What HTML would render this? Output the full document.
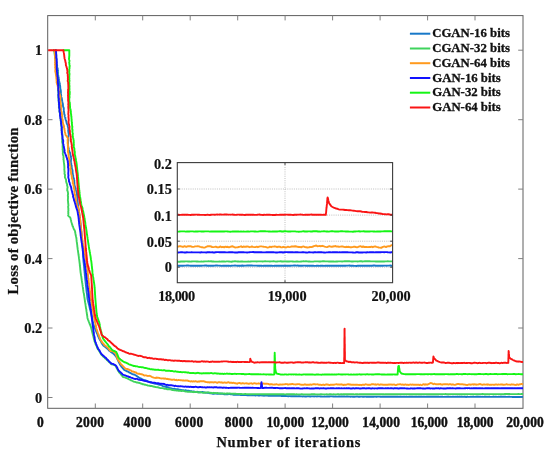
<!DOCTYPE html>
<html><head><meta charset="utf-8"><title>Loss of objective function</title>
<style>html,body{margin:0;padding:0;background:#fff}body{width:550px;height:457px;overflow:hidden}</style>
</head><body>
<svg width="550" height="457" viewBox="0 0 550 457" style="display:block">
<rect width="550" height="457" fill="#fff"/>
<rect x="47.7" y="15.6" width="475.3" height="392.7" fill="none" stroke="#5e5e5e" stroke-width="1"/>
<path d="M95.3,408.3 v-4.8 M95.3,15.6 v4.8 M142.7,408.3 v-4.8 M142.7,15.6 v4.8 M190.2,408.3 v-4.8 M190.2,15.6 v4.8 M237.7,408.3 v-4.8 M237.7,15.6 v4.8 M285.1,408.3 v-4.8 M285.1,15.6 v4.8 M332.6,408.3 v-4.8 M332.6,15.6 v4.8 M380.1,408.3 v-4.8 M380.1,15.6 v4.8 M427.6,408.3 v-4.8 M427.6,15.6 v4.8 M475.0,408.3 v-4.8 M475.0,15.6 v4.8 M47.7,397.5 h4.8 M523.0,397.5 h-4.8 M47.7,328.0 h4.8 M523.0,328.0 h-4.8 M47.7,258.6 h4.8 M523.0,258.6 h-4.8 M47.7,189.1 h4.8 M523.0,189.1 h-4.8 M47.7,119.7 h4.8 M523.0,119.7 h-4.8 M47.7,50.2 h4.8 M523.0,50.2 h-4.8" stroke="#808080" stroke-width="1" fill="none"/>
<g fill="none" stroke-width="1.9" stroke-linejoin="round" stroke-linecap="butt">
<path d="M55.0,50.2 L55.8,50.2 L55.9,50.9 L55.9,51.7 L56.0,52.4 L56.0,53.2 L56.1,53.9 L56.2,54.6 L56.2,55.4 L56.2,56.1 L56.2,56.8 L56.4,57.6 L56.3,58.3 L56.5,59.0 L56.5,59.8 L56.4,60.5 L56.6,61.3 L56.5,62.0 L56.7,62.7 L56.7,63.4 L56.7,64.2 L56.9,64.9 L57.2,65.6 L57.1,66.3 L57.1,67.1 L57.4,67.8 L57.7,68.5 L57.7,69.2 L57.7,69.9 L58.0,70.7 L57.7,71.4 L58.0,72.1 L57.9,72.8 L57.9,73.6 L57.9,74.3 L58.0,75.0 L58.3,75.7 L58.3,76.4 L58.5,77.1 L58.7,77.8 L58.8,78.5 L59.0,79.2 L58.9,79.8 L58.9,80.5 L59.0,81.2 L59.4,81.9 L59.5,82.6 L59.6,83.3 L59.8,84.0 L59.8,84.7 L59.9,85.5 L60.1,86.2 L60.3,86.9 L60.2,87.6 L60.3,88.3 L60.4,89.1 L60.7,89.8 L60.8,90.5 L60.7,91.2 L61.0,92.0 L60.8,92.7 L60.9,93.4 L61.1,94.1 L61.0,94.8 L61.2,95.6 L61.1,96.3 L61.3,97.0 L61.6,97.7 L61.7,98.4 L62.0,99.1 L61.9,99.8 L62.1,100.5 L62.2,101.2 L62.4,101.9 L62.4,102.5 L62.7,103.2 L62.9,103.9 L62.9,104.6 L63.0,105.3 L62.9,106.0 L63.2,106.7 L63.4,107.4 L63.7,108.1 L63.8,108.8 L63.7,109.5 L63.8,110.2 L64.0,110.9 L63.9,111.5 L64.1,112.2 L64.2,112.9 L64.2,113.6 L64.3,114.3 L64.7,115.0 L64.7,115.7 L64.8,116.4 L65.0,117.1 L65.4,117.8 L65.3,118.4 L65.5,119.1 L65.7,119.8 L66.0,120.5 L66.2,121.2 L66.5,121.9 L66.5,122.5 L66.7,123.2 L66.9,123.8 L67.3,124.5 L67.7,125.2 L67.7,125.8 L67.8,126.5 L68.0,127.1 L68.2,127.8 L68.3,128.5 L68.4,129.3 L68.3,130.0 L68.2,130.7 L68.3,131.5 L68.4,132.2 L68.5,132.9 L68.7,133.7 L68.8,134.4 L68.6,135.2 L68.5,136.0 L68.4,136.7 L68.0,137.5 L68.1,138.3 L68.2,139.0 L68.3,139.8 L68.3,140.5 L68.2,141.3 L68.1,142.0 L68.0,142.8 L68.1,143.5 L68.0,144.3 L67.9,145.0 L68.1,145.7 L68.2,146.4 L68.4,147.1 L68.5,147.9 L68.6,148.6 L68.8,149.3 L68.9,150.0 L69.2,150.7 L69.3,151.5 L69.8,152.2 L70.1,152.9 L70.1,153.7 L70.3,154.4 L70.5,155.1 L70.7,155.9 L70.8,156.6 L71.0,157.3 L71.3,158.0 L71.2,158.8 L71.1,159.5 L71.0,160.2 L70.9,160.9 L70.9,161.7 L71.0,162.4 L71.2,163.1 L71.2,163.8 L71.1,164.6 L71.6,165.3 L71.7,166.0 L71.6,166.7 L71.8,167.5 L71.7,168.2 L72.0,168.9 L72.3,169.6 L72.5,170.4 L72.6,171.1 L72.5,171.8 L72.6,172.6 L72.6,173.3 L72.9,174.0 L73.0,174.7 L73.2,175.5 L73.2,176.2 L73.2,176.9 L73.5,177.6 L73.8,178.3 L74.0,179.0 L74.1,179.7 L74.3,180.4 L74.4,181.1 L74.2,181.8 L74.4,182.5 L74.4,183.2 L74.4,183.9 L74.4,184.6 L74.6,185.3 L74.7,186.0 L75.1,186.8 L75.3,187.7 L75.5,188.2 L75.7,189.1 L75.9,189.9 L76.1,190.6 L76.3,191.1 L76.5,191.6 L76.7,192.2 L76.9,192.8 L77.0,193.5 L77.0,194.3 L77.1,195.3 L77.2,196.1 L77.2,196.7 L77.3,197.4 L77.4,198.2 L77.4,198.6 L77.5,199.4 L77.5,200.3 L77.6,201.1 L77.7,201.8 L77.7,202.4 L77.8,202.9 L77.9,203.8 L77.9,204.4 L78.0,205.2 L78.1,206.1 L78.2,206.7 L78.3,207.3 L78.4,208.2 L78.6,208.9 L78.7,209.4 L78.8,210.0 L78.9,210.6 L79.0,211.6 L79.1,212.5 L79.2,213.0 L79.3,213.9 L79.4,214.8 L79.6,215.4 L79.7,216.0 L79.8,216.7 L79.9,217.3 L80.0,217.8 L80.1,218.9 L80.1,219.6 L80.2,220.3 L80.3,221.2 L80.4,221.8 L80.4,222.7 L80.5,223.5 L80.6,224.0 L80.7,224.6 L80.7,225.2 L80.8,225.9 L80.9,226.8 L80.9,227.4 L81.0,228.2 L81.1,228.8 L81.2,229.8 L81.2,230.4 L81.3,231.2 L81.4,231.9 L81.4,232.8 L81.5,233.5 L81.6,234.3 L81.6,235.0 L81.7,235.7 L81.7,236.4 L81.8,236.8 L81.9,237.6 L81.9,238.2 L82.0,238.8 L82.1,239.8 L82.1,240.4 L82.2,241.2 L82.2,242.1 L82.3,242.9 L82.4,243.5 L82.4,244.2 L82.5,245.0 L82.5,245.8 L82.6,246.3 L82.6,247.1 L82.7,247.7 L82.7,248.4 L82.8,249.3 L82.8,250.0 L82.8,250.7 L82.9,251.6 L82.9,252.4 L83.0,253.0 L83.0,253.7 L83.1,254.4 L83.1,255.1 L83.1,255.8 L83.2,256.5 L83.2,257.2 L83.3,257.9 L83.3,258.8 L83.4,259.5 L83.4,260.3 L83.5,261.1 L83.5,261.6 L83.6,262.3 L83.7,263.2 L83.8,263.9 L83.8,264.4 L83.9,264.9 L84.0,265.7 L84.1,266.3 L84.1,267.0 L84.2,267.6 L84.3,268.6 L84.3,269.5 L84.4,270.4 L84.5,270.9 L84.6,271.7 L84.6,272.5 L84.7,273.0 L84.8,273.9 L84.8,274.8 L84.9,275.3 L85.0,276.2 L85.1,276.8 L85.1,277.5 L85.2,278.4 L85.3,279.2 L85.3,279.7 L85.4,280.4 L85.5,281.1 L85.6,281.8 L85.6,282.4 L85.7,283.1 L85.8,284.0 L85.9,284.5 L85.9,285.4 L86.0,286.1 L86.1,286.7 L86.2,287.4 L86.3,288.3 L86.4,289.1 L86.4,289.6 L86.5,290.7 L86.6,291.5 L86.7,292.4 L86.8,292.8 L86.9,293.4 L87.0,294.0 L87.1,295.0 L87.2,295.6 L87.2,296.2 L87.3,297.0 L87.4,298.0 L87.5,298.9 L87.6,299.4 L87.8,300.0 L88.0,301.0 L88.2,301.7 L88.4,302.5 L88.5,303.0 L88.7,303.5 L88.9,304.5 L89.1,305.2 L89.3,305.8 L89.5,306.7 L89.6,307.5 L89.8,308.3 L90.0,308.7 L90.1,309.6 L90.3,310.0 L90.5,310.9 L90.7,311.6 L90.8,312.2 L91.0,312.9 L91.2,313.8 L91.3,314.3 L91.5,314.8 L91.6,315.6 L91.8,316.3 L91.9,316.9 L92.1,317.5 L92.2,318.2 L92.4,318.9 L92.5,319.7 L92.6,320.4 L92.8,321.4 L92.9,322.0 L93.1,322.8 L93.2,323.4 L93.4,324.1 L93.5,324.7 L93.8,325.4 L94.1,325.9 L94.3,326.9 L94.6,327.6 L94.9,328.2 L95.2,328.9 L95.4,329.8 L95.7,330.2 L96.0,331.1 L96.3,331.7 L96.6,332.4 L96.9,333.3 L97.2,333.8 L97.5,334.5 L97.8,335.3 L98.1,336.2 L98.4,336.7 L98.7,337.5 L99.0,338.2 L99.3,338.8 L99.7,339.4 L100.0,339.9 L100.3,340.4 L100.7,341.0 L101.0,341.5 L101.3,342.4 L101.6,343.0 L102.0,343.6 L102.3,344.2 L102.9,344.9 L103.4,345.6 L104.0,346.2 L104.6,346.5 L105.2,346.9 L105.7,347.3 L106.3,347.9 L106.9,348.3 L107.4,348.8 L108.0,349.3 L108.6,350.0 L109.1,350.7 L109.7,351.0 L110.2,351.3 L110.8,351.9 L111.3,352.2 L111.9,352.6 L112.4,352.8 L113.0,353.3 L113.5,353.8 L114.1,354.3 L114.6,354.8 L115.1,355.5 L115.5,356.0 L116.0,356.6 L116.5,357.1 L116.8,357.9 L117.1,358.5 L117.5,359.2 L117.8,360.0 L118.1,360.7 L118.5,361.5 L118.8,362.2 L119.2,362.9 L119.5,363.6 L119.9,364.3 L120.3,365.0 L120.6,365.5 L121.0,366.0 L121.5,366.8 L122.0,367.2 L122.5,367.9 L123.0,368.5 L123.5,368.9 L124.0,369.7 L124.7,370.1 L125.3,370.4 L126.0,370.8 L126.6,371.2 L127.3,371.2 L127.9,371.6 L128.6,371.9 L129.2,372.4 L129.9,372.8 L130.5,373.2 L131.2,373.4 L131.8,373.8 L132.5,374.1 L133.1,374.4 L133.8,374.5 L134.4,374.7 L135.1,375.0 L135.7,375.4 L136.4,375.7 L137.0,376.3 L137.7,376.7 L138.3,377.1 L138.9,377.5 L139.6,377.9 L140.2,378.2 L140.9,378.4 L141.5,378.9 L142.2,379.3 L142.8,379.5 L143.4,379.8 L144.1,380.1 L144.8,380.1 L145.4,380.5 L146.1,380.7 L146.7,380.8 L147.3,381.1 L148.0,381.6 L148.7,381.6 L149.5,382.0 L150.2,382.4 L150.9,382.5 L151.6,382.6 L152.4,382.8 L153.1,383.1 L153.8,383.4 L154.5,383.6 L155.3,383.8 L156.0,383.7 L156.7,383.8 L157.4,384.0 L158.1,384.4 L158.8,384.6 L159.5,384.9 L160.2,384.9 L160.9,385.0 L161.6,385.3 L162.3,385.7 L163.0,386.1 L163.7,386.4 L164.4,386.5 L165.1,386.7 L165.8,386.8 L166.5,387.0 L167.2,387.0 L167.9,387.5 L168.5,387.5 L169.2,387.9 L169.9,388.2 L170.6,388.1 L171.3,388.3 L172.0,388.6 L172.7,388.9 L173.4,388.9 L174.1,388.8 L174.8,388.8 L175.5,389.1 L176.2,389.1 L176.8,389.2 L177.5,389.2 L178.2,389.3 L178.9,389.7 L179.6,389.6 L180.3,389.8 L181.0,389.9 L181.7,390.2 L182.4,390.3 L183.1,390.2 L183.8,390.4 L184.5,390.5 L185.2,390.3 L185.8,390.3 L186.5,390.5 L187.2,390.6 L187.9,390.7 L188.6,390.7 L189.3,390.9 L190.0,391.0 L190.7,391.3 L191.4,391.1 L192.1,391.4 L192.9,391.6 L193.6,391.4 L194.3,391.7 L195.0,391.8 L195.7,392.0 L196.4,391.9 L197.1,391.8 L197.9,391.9 L198.6,392.2 L199.3,392.2 L200.0,392.2 L200.7,392.2 L201.4,392.1 L202.1,392.0 L202.9,392.0 L203.6,392.4 L204.3,392.4 L205.0,392.7 L205.7,392.6 L206.4,392.6 L207.1,392.7 L207.9,392.7 L208.6,392.7 L209.3,393.1 L210.0,393.3 L210.7,393.4 L211.4,393.4 L212.1,393.6 L212.9,393.7 L213.6,393.6 L214.3,393.7 L215.0,393.4 L215.7,393.6 L216.4,393.6 L217.1,393.8 L217.9,393.8 L218.6,393.7 L219.3,393.5 L220.0,393.9 L220.7,393.7 L221.4,393.8 L222.1,393.8 L222.9,393.8 L223.6,394.0 L224.3,394.3 L225.0,394.1 L225.7,394.2 L226.4,394.1 L227.1,394.2 L227.9,394.2 L228.6,394.1 L229.3,394.1 L230.0,394.1 L230.7,394.3 L231.4,394.4 L232.1,394.4 L232.9,394.6 L233.6,394.7 L234.3,394.7 L235.0,394.7 L235.7,394.7 L236.4,394.7 L237.1,394.7 L237.9,394.8 L238.6,394.8 L239.3,394.9 L240.0,394.9 L240.7,395.0 L241.4,395.1 L242.1,395.1 L242.8,395.1 L243.5,395.1 L244.2,395.1 L244.9,395.1 L245.6,395.0 L246.4,395.1 L247.1,395.2 L247.8,395.1 L248.5,395.2 L249.2,395.2 L249.9,395.3 L250.6,395.2 L251.3,395.2 L252.0,395.2 L252.7,395.2 L253.4,395.3 L254.1,395.4 L254.8,395.4 L255.5,395.5 L256.2,395.4 L256.9,395.3 L257.6,395.4 L258.4,395.5 L259.1,395.5 L259.8,395.5 L260.5,395.4 L261.2,395.4 L261.9,395.5 L262.6,395.6 L263.3,395.6 L264.0,395.7 L264.7,395.6 L265.4,395.6 L266.1,395.5 L266.8,395.6 L267.5,395.6 L268.2,395.7 L268.9,395.8 L269.6,395.8 L270.4,395.8 L271.1,395.8 L271.8,395.8 L272.5,395.7 L273.2,395.8 L273.9,395.8 L274.6,395.9 L275.3,395.9 L276.0,395.8 L276.7,395.8 L277.4,395.8 L278.1,395.9 L278.8,395.9 L279.5,395.9 L280.2,395.8 L280.9,395.9 L281.6,396.0 L282.4,396.0 L283.1,395.9 L283.8,396.0 L284.5,395.9 L285.2,396.0 L285.9,396.0 L286.6,396.1 L287.3,396.1 L288.0,396.2 L288.7,396.2 L289.4,396.1 L290.1,396.1 L290.8,396.2 L291.5,396.3 L292.2,396.2 L292.9,396.2 L293.6,396.2 L294.4,396.3 L295.1,396.3 L295.8,396.3 L296.5,396.3 L297.2,396.4 L297.9,396.3 L298.6,396.3 L299.3,396.3 L300.0,396.3 L300.7,396.4 L301.4,396.4 L302.1,396.4 L302.8,396.5 L303.5,396.4 L304.2,396.4 L304.9,396.5 L305.6,396.4 L306.3,396.5 L307.0,396.4 L307.7,396.4 L308.5,396.4 L309.2,396.4 L309.9,396.5 L310.6,396.5 L311.3,396.4 L312.0,396.4 L312.7,396.4 L313.4,396.4 L314.1,396.5 L314.8,396.4 L315.5,396.4 L316.2,396.4 L316.9,396.5 L317.6,396.4 L318.3,396.4 L319.0,396.4 L319.7,396.4 L320.4,396.5 L321.1,396.5 L321.8,396.6 L322.5,396.6 L323.2,396.6 L323.9,396.6 L324.6,396.5 L325.4,396.6 L326.1,396.6 L326.8,396.5 L327.5,396.5 L328.2,396.5 L328.9,396.5 L329.6,396.5 L330.3,396.4 L331.0,396.4 L331.7,396.4 L332.4,396.4 L333.1,396.6 L333.8,396.5 L334.5,396.6 L335.2,396.5 L335.9,396.5 L336.6,396.6 L337.3,396.6 L338.0,396.6 L338.7,396.5 L339.4,396.5 L340.1,396.5 L340.8,396.6 L341.5,396.5 L342.3,396.5 L343.0,396.6 L343.7,396.5 L344.4,396.5 L345.1,396.6 L345.8,396.6 L346.5,396.5 L347.2,396.5 L347.9,396.5 L348.6,396.6 L349.3,396.6 L350.0,396.6 L350.7,396.7 L351.4,396.6 L352.1,396.6 L352.8,396.7 L353.5,396.7 L354.2,396.6 L354.9,396.7 L355.6,396.6 L356.3,396.6 L357.0,396.5 L357.7,396.6 L358.5,396.7 L359.2,396.7 L359.9,396.7 L360.6,396.6 L361.3,396.6 L362.0,396.6 L362.7,396.7 L363.4,396.8 L364.1,396.7 L364.8,396.6 L365.5,396.6 L366.2,396.7 L366.9,396.7 L367.6,396.7 L368.3,396.7 L369.0,396.7 L369.7,396.8 L370.4,396.8 L371.1,396.8 L371.8,396.7 L372.5,396.7 L373.2,396.7 L373.9,396.7 L374.6,396.6 L375.4,396.6 L376.1,396.7 L376.8,396.7 L377.5,396.6 L378.2,396.6 L378.9,396.6 L379.6,396.6 L380.3,396.8 L381.0,396.8 L381.7,396.9 L382.4,396.8 L383.1,396.7 L383.8,396.6 L384.5,396.7 L385.2,396.7 L385.9,396.7 L386.6,396.7 L387.3,396.7 L388.0,396.7 L388.7,396.8 L389.4,396.8 L390.1,396.8 L390.8,396.8 L391.5,396.8 L392.3,396.8 L393.0,396.8 L393.7,396.8 L394.4,396.8 L395.1,396.8 L395.8,396.8 L396.5,396.7 L397.2,396.7 L397.9,396.7 L398.6,396.8 L399.3,396.8 L400.0,396.8 L400.7,396.8 L401.4,396.9 L402.1,396.8 L402.8,396.8 L403.5,396.8 L404.2,396.8 L404.9,396.9 L405.6,396.8 L406.3,396.8 L407.0,396.9 L407.7,396.9 L408.4,396.9 L409.1,396.8 L409.8,396.8 L410.5,396.7 L411.2,396.7 L411.9,396.8 L412.7,396.8 L413.4,396.9 L414.1,396.8 L414.8,396.9 L415.5,396.8 L416.2,396.8 L416.9,396.8 L417.6,396.9 L418.3,396.8 L419.0,396.8 L419.7,396.8 L420.4,396.8 L421.1,396.8 L421.8,396.7 L422.5,396.7 L423.2,396.7 L423.9,396.8 L424.6,396.8 L425.3,396.8 L426.0,396.7 L426.7,396.7 L427.4,396.8 L428.1,396.8 L428.8,396.8 L429.5,396.7 L430.2,396.8 L430.9,396.8 L431.6,396.8 L432.3,396.7 L433.0,396.7 L433.7,396.8 L434.4,396.8 L435.1,396.8 L435.8,396.7 L436.5,396.8 L437.3,396.8 L438.0,396.8 L438.7,396.8 L439.4,396.9 L440.1,396.8 L440.8,396.8 L441.5,396.8 L442.2,396.8 L442.9,396.9 L443.6,396.9 L444.3,396.9 L445.0,396.8 L445.7,396.9 L446.4,396.8 L447.1,396.7 L447.8,396.8 L448.5,396.8 L449.2,396.9 L449.9,396.9 L450.6,396.9 L451.3,396.9 L452.0,396.8 L452.7,396.7 L453.4,396.8 L454.1,396.8 L454.8,396.9 L455.5,396.8 L456.2,396.8 L456.9,396.8 L457.6,396.8 L458.3,396.8 L459.0,396.8 L459.7,396.8 L460.4,396.9 L461.1,396.8 L461.9,396.8 L462.6,396.9 L463.3,396.9 L464.0,396.9 L464.7,396.8 L465.4,396.9 L466.1,397.0 L466.8,396.9 L467.5,396.8 L468.2,396.9 L468.9,396.9 L469.6,396.9 L470.3,396.9 L471.0,396.9 L471.7,396.9 L472.4,396.9 L473.1,396.8 L473.8,396.8 L474.5,396.9 L475.2,396.9 L475.9,396.9 L476.6,396.8 L477.3,396.8 L478.0,396.8 L478.7,396.8 L479.4,396.8 L480.1,396.8 L480.8,396.8 L481.5,396.9 L482.2,396.8 L482.9,396.9 L483.6,396.9 L484.3,396.8 L485.0,396.9 L485.7,396.8 L486.5,396.9 L487.2,396.9 L487.9,396.9 L488.6,396.9 L489.3,396.8 L490.0,396.9 L490.7,396.9 L491.4,396.9 L492.1,396.9 L492.8,396.9 L493.5,396.8 L494.2,396.8 L494.9,396.9 L495.6,396.8 L496.3,396.9 L497.0,396.9 L497.7,396.9 L498.4,396.8 L499.1,396.9 L499.8,396.8 L500.5,396.8 L501.2,396.8 L501.9,396.8 L502.6,396.8 L503.3,396.8 L504.0,396.8 L504.7,396.8 L505.4,396.8 L506.1,396.9 L506.8,396.9 L507.5,396.9 L508.2,396.8 L508.9,396.9 L509.6,396.8 L510.3,396.9 L511.1,396.9 L511.8,396.9 L512.5,397.0 L513.2,397.0 L513.9,397.0 L514.6,396.9 L515.3,397.0 L516.0,396.9 L516.7,397.0 L517.4,397.0 L518.1,396.9 L518.8,397.0 L519.5,397.0 L520.2,396.9 L520.9,396.9 L521.6,396.9 L522.3,396.9 L523.0,396.9" stroke="#1878c8"/>
<path d="M53.0,50.0 L53.9,50.0 L54.0,50.8 L54.2,51.5 L54.4,52.2 L54.5,53.0 L54.6,53.7 L54.7,54.4 L54.8,55.1 L54.9,55.8 L55.0,56.5 L55.2,57.2 L55.2,57.9 L55.3,58.6 L55.6,59.3 L55.6,60.0 L55.6,60.7 L55.8,61.4 L55.9,62.1 L55.9,62.8 L56.0,63.4 L56.1,64.1 L56.6,64.8 L56.8,65.5 L57.0,66.2 L56.8,66.9 L57.0,67.6 L56.9,68.3 L57.0,69.0 L57.1,69.8 L57.1,70.5 L57.3,71.2 L57.3,71.9 L57.4,72.6 L57.6,73.3 L57.3,74.0 L57.6,74.8 L57.7,75.5 L57.6,76.2 L57.8,76.9 L57.6,77.6 L57.9,78.3 L57.9,79.0 L57.8,79.7 L58.0,80.5 L58.0,81.2 L57.9,81.9 L58.1,82.6 L57.9,83.3 L58.2,84.0 L58.1,84.8 L58.2,85.5 L58.4,86.2 L58.4,87.0 L58.4,87.7 L58.3,88.4 L58.1,89.2 L58.0,89.9 L58.0,90.6 L58.2,91.3 L58.3,92.1 L58.4,92.8 L58.6,93.5 L58.4,94.3 L58.3,95.0 L58.5,95.7 L58.4,96.5 L58.3,97.2 L58.4,97.9 L58.4,98.6 L58.5,99.4 L58.5,100.1 L58.7,100.8 L58.8,101.5 L58.8,102.3 L58.9,103.0 L58.9,103.7 L58.8,104.5 L59.1,105.2 L59.0,105.9 L58.9,106.6 L58.9,107.4 L59.1,108.1 L59.4,108.8 L59.6,109.6 L59.6,110.3 L59.5,111.0 L59.5,111.7 L59.7,112.5 L59.9,113.2 L59.9,113.9 L60.1,114.7 L60.2,115.4 L60.5,116.1 L60.6,116.8 L60.5,117.6 L60.8,118.3 L60.6,119.0 L60.8,119.7 L60.8,120.5 L60.9,121.2 L60.8,121.9 L61.1,122.7 L61.0,123.4 L61.2,124.1 L61.5,124.9 L61.3,125.6 L61.3,126.3 L61.5,127.1 L61.6,127.8 L61.7,128.5 L61.9,129.3 L61.7,130.0 L61.8,130.7 L61.8,131.5 L61.7,132.2 L62.1,132.9 L62.3,133.7 L62.4,134.4 L62.1,135.1 L62.3,135.8 L62.4,136.5 L62.4,137.3 L62.5,138.0 L62.4,138.7 L62.3,139.4 L62.2,140.1 L62.2,140.8 L62.1,141.5 L62.2,142.2 L62.4,143.0 L62.6,143.7 L62.7,144.4 L62.7,145.1 L62.6,145.8 L62.6,146.5 L62.6,147.2 L62.7,148.0 L62.7,148.7 L62.6,149.4 L62.7,150.1 L63.0,150.8 L62.8,151.5 L63.0,152.3 L62.8,153.0 L62.8,153.7 L62.9,154.4 L63.1,155.2 L63.4,155.9 L63.5,156.6 L63.4,157.3 L63.6,158.0 L63.5,158.8 L63.4,159.5 L63.7,160.2 L63.7,160.9 L63.8,161.7 L63.9,162.4 L64.1,163.1 L64.0,163.8 L64.2,164.6 L64.2,165.3 L64.4,166.0 L64.3,166.7 L64.4,167.5 L64.4,168.2 L64.4,168.9 L64.3,169.6 L64.5,170.4 L64.4,171.1 L64.7,171.8 L64.6,172.6 L64.5,173.3 L64.6,174.0 L65.0,174.7 L65.0,175.5 L64.9,176.2 L64.9,176.9 L65.0,177.6 L65.4,178.3 L65.7,179.0 L66.0,179.7 L66.2,180.4 L66.1,181.2 L66.3,181.9 L66.4,182.6 L66.7,183.3 L67.0,184.0 L67.2,184.7 L67.1,185.4 L67.3,186.1 L67.5,186.8 L67.6,187.5 L67.4,188.2 L67.3,188.9 L67.3,189.6 L67.2,190.3 L67.6,191.0 L67.8,191.7 L67.9,192.4 L68.0,193.1 L68.1,193.8 L68.0,194.5 L67.9,195.2 L67.8,195.9 L68.1,196.6 L68.0,197.3 L68.0,198.0 L68.0,198.7 L67.9,199.4 L67.9,200.1 L67.9,200.8 L68.1,201.5 L68.1,202.2 L68.1,202.9 L68.3,203.7 L68.3,204.4 L68.4,205.1 L68.4,205.8 L68.1,206.5 L68.2,207.2 L68.2,207.9 L68.4,208.6 L68.3,209.3 L68.4,210.0 L68.4,210.8 L68.2,211.6 L68.4,212.4 L68.2,213.1 L68.4,213.9 L68.3,214.7 L68.1,215.5 L68.6,216.2 L69.4,216.8 L70.2,217.4 L70.4,218.1 L70.6,218.8 L70.8,219.6 L71.1,220.3 L71.1,221.0 L71.3,221.8 L71.5,222.5 L71.8,223.2 L71.9,224.0 L72.3,224.7 L72.4,225.3 L72.5,226.0 L73.0,226.6 L73.2,227.3 L73.3,227.9 L73.7,228.6 L73.9,229.2 L74.4,229.9 L74.7,230.5 L75.1,231.2 L75.1,232.0 L75.2,232.6 L75.4,233.3 L75.5,234.0 L75.7,235.0 L75.8,235.5 L76.0,236.4 L76.1,236.9 L76.3,237.6 L76.4,238.3 L76.5,239.2 L76.6,239.9 L76.6,240.6 L76.7,241.4 L76.8,242.0 L76.9,242.7 L77.0,243.4 L77.1,244.2 L77.2,245.0 L77.3,245.7 L77.3,246.2 L77.4,246.8 L77.5,247.4 L77.6,248.3 L77.7,249.1 L77.8,249.9 L77.9,250.4 L78.0,251.1 L78.1,251.9 L78.2,252.6 L78.3,253.1 L78.4,253.9 L78.5,254.8 L78.6,255.3 L78.7,255.9 L78.8,256.6 L78.9,257.5 L79.0,258.4 L79.1,259.0 L79.2,259.7 L79.3,260.4 L79.4,261.2 L79.5,262.1 L79.6,262.8 L79.7,263.5 L79.8,264.2 L79.8,265.2 L79.9,266.0 L80.0,266.5 L80.1,267.5 L80.2,268.0 L80.2,268.7 L80.3,269.6 L80.4,270.4 L80.5,271.2 L80.5,271.8 L80.6,272.3 L80.7,273.1 L80.8,273.7 L80.9,274.3 L81.0,275.1 L81.1,275.7 L81.3,276.5 L81.4,277.5 L81.5,278.3 L81.6,279.0 L81.7,279.7 L81.8,280.4 L81.9,281.0 L82.0,281.8 L82.1,282.5 L82.3,283.4 L82.4,284.2 L82.5,284.8 L82.6,285.6 L82.7,286.4 L82.8,287.0 L82.9,287.5 L83.0,288.3 L83.1,289.2 L83.2,289.9 L83.3,290.6 L83.4,291.4 L83.5,292.0 L83.6,292.7 L83.8,293.3 L83.9,293.8 L84.0,294.6 L84.1,295.1 L84.2,295.8 L84.3,296.7 L84.4,297.4 L84.5,298.1 L84.6,298.7 L84.7,299.3 L84.8,300.1 L84.9,300.9 L85.0,301.6 L85.1,302.4 L85.3,303.3 L85.4,303.8 L85.5,304.6 L85.6,305.4 L85.7,306.0 L85.8,306.7 L85.9,307.6 L86.0,308.1 L86.1,308.8 L86.3,309.4 L86.4,310.3 L86.5,311.3 L86.6,311.9 L86.7,312.4 L86.8,313.3 L86.9,314.1 L87.0,315.0 L87.2,315.7 L87.3,316.5 L87.4,317.4 L87.5,318.1 L87.7,318.7 L88.0,319.6 L88.2,320.0 L88.5,320.8 L88.7,321.4 L89.0,322.2 L89.2,322.6 L89.5,323.5 L89.7,324.1 L90.0,324.6 L90.2,325.2 L90.5,325.9 L90.7,326.4 L91.0,327.2 L91.2,327.9 L91.4,328.8 L91.6,329.4 L91.7,330.0 L91.9,330.7 L92.1,331.6 L92.3,332.5 L92.5,333.1 L92.6,333.6 L92.8,334.5 L93.0,335.1 L93.2,335.6 L93.3,336.2 L93.5,337.1 L93.7,338.0 L93.9,338.7 L94.1,339.3 L94.2,340.0 L94.4,340.5 L94.6,341.5 L94.9,342.0 L95.2,342.8 L95.4,343.6 L95.7,344.4 L96.0,344.9 L96.3,345.5 L96.6,346.2 L96.8,346.7 L97.1,347.7 L97.4,348.3 L97.8,349.0 L98.1,349.5 L98.5,350.0 L98.9,350.5 L99.2,351.2 L99.6,351.7 L99.9,352.1 L100.3,353.0 L100.7,353.5 L101.0,354.1 L101.4,354.7 L102.0,355.2 L102.6,355.8 L103.1,356.4 L103.7,356.9 L104.3,357.3 L104.8,358.0 L105.4,358.6 L106.0,358.8 L106.5,359.5 L107.0,360.1 L107.6,360.7 L108.1,360.9 L108.6,361.6 L109.1,362.1 L109.6,362.4 L110.2,362.7 L110.7,363.6 L111.2,364.2 L111.9,364.3 L112.7,364.5 L113.4,364.7 L114.1,365.0 L114.9,365.5 L115.6,365.8 L116.0,366.4 L116.3,367.4 L116.7,368.2 L117.1,368.6 L117.5,369.5 L117.8,370.2 L118.2,371.0 L118.7,371.6 L119.1,372.3 L119.6,372.9 L120.1,373.5 L120.6,373.8 L121.0,374.5 L121.5,375.0 L122.0,375.7 L122.4,376.2 L122.9,376.9 L123.5,377.1 L124.2,377.3 L124.8,377.4 L125.5,377.6 L126.1,378.0 L126.7,378.1 L127.4,378.5 L128.0,378.7 L128.7,379.1 L129.3,379.4 L130.0,379.8 L130.6,380.2 L131.2,380.2 L131.9,380.7 L132.5,381.0 L133.2,381.3 L133.8,381.6 L134.5,381.9 L135.2,381.9 L135.8,382.1 L136.5,382.5 L137.2,382.4 L137.9,382.6 L138.5,382.9 L139.2,382.8 L139.9,383.1 L140.6,383.4 L141.2,383.8 L141.9,383.8 L142.6,384.2 L143.3,384.3 L143.9,384.4 L144.6,384.7 L145.3,384.6 L146.0,384.9 L146.6,385.1 L147.3,385.2 L148.0,385.6 L148.7,385.6 L149.4,385.7 L150.1,385.8 L150.8,386.1 L151.4,386.0 L152.1,386.2 L152.8,386.3 L153.5,386.5 L154.2,386.8 L154.9,386.8 L155.6,387.0 L156.3,387.1 L157.0,387.2 L157.7,387.2 L158.3,387.4 L159.0,387.8 L159.7,387.9 L160.4,388.1 L161.1,388.1 L161.8,388.1 L162.6,388.1 L163.3,388.3 L164.0,388.5 L164.7,388.8 L165.5,388.6 L166.2,388.9 L166.9,389.2 L167.6,389.2 L168.4,389.1 L169.1,389.2 L169.8,389.1 L170.5,389.2 L171.3,389.7 L172.0,389.8 L172.7,390.0 L173.4,390.1 L174.2,390.3 L174.9,390.3 L175.6,390.4 L176.3,390.5 L177.0,390.6 L177.8,390.6 L178.5,390.7 L179.2,390.6 L179.9,390.7 L180.6,390.8 L181.4,391.0 L182.1,390.8 L182.8,390.8 L183.5,390.8 L184.2,391.1 L185.0,391.4 L185.7,391.5 L186.4,391.4 L187.1,391.6 L187.8,391.8 L188.6,391.8 L189.3,391.7 L190.0,391.7 L190.7,391.7 L191.4,391.7 L192.1,391.8 L192.9,392.0 L193.6,392.2 L194.3,392.0 L195.0,392.1 L195.7,391.9 L196.4,391.9 L197.1,392.2 L197.9,392.2 L198.6,392.5 L199.3,392.4 L200.0,392.2 L200.7,392.3 L201.4,392.4 L202.1,392.6 L202.9,392.8 L203.6,392.7 L204.3,392.7 L205.0,392.5 L205.7,392.7 L206.4,392.6 L207.1,392.5 L207.9,392.4 L208.6,392.4 L209.3,392.7 L210.0,392.6 L210.7,393.0 L211.4,392.8 L212.1,393.1 L212.9,393.0 L213.6,392.8 L214.3,393.1 L215.0,393.0 L215.7,393.2 L216.4,393.1 L217.1,393.0 L217.9,393.2 L218.6,393.4 L219.3,393.5 L220.0,393.6 L220.7,393.3 L221.4,393.4 L222.1,393.5 L222.9,393.5 L223.6,393.7 L224.3,393.5 L225.0,393.7 L225.7,393.8 L226.4,393.5 L227.1,393.3 L227.9,393.5 L228.6,393.7 L229.3,393.5 L230.0,393.5 L230.7,393.6 L231.4,393.6 L232.1,393.8 L232.9,393.8 L233.6,393.7 L234.3,393.8 L235.0,393.8 L235.7,393.8 L236.4,393.9 L237.1,393.9 L237.9,393.9 L238.6,393.9 L239.3,394.0 L240.0,394.0 L240.7,394.0 L241.4,394.0 L242.1,394.1 L242.8,394.1 L243.5,394.1 L244.2,394.1 L244.9,394.0 L245.6,394.0 L246.4,394.1 L247.1,394.1 L247.8,394.1 L248.5,394.1 L249.2,394.1 L249.9,394.2 L250.6,394.2 L251.3,394.2 L252.0,394.1 L252.7,394.1 L253.4,394.2 L254.1,394.1 L254.8,394.1 L255.5,394.1 L256.2,394.2 L256.9,394.2 L257.6,394.1 L258.4,394.1 L259.1,394.1 L259.8,394.1 L260.5,394.1 L261.2,394.2 L261.9,394.2 L262.6,394.1 L263.3,394.2 L264.0,394.2 L264.7,394.3 L265.4,394.2 L266.1,394.2 L266.8,394.2 L267.5,394.3 L268.2,394.3 L268.9,394.3 L269.6,394.2 L270.4,394.2 L271.1,394.2 L271.8,394.2 L272.5,394.2 L273.2,394.2 L273.9,394.3 L274.6,394.2 L275.3,394.3 L276.0,394.3 L276.7,394.3 L277.4,394.2 L278.1,394.2 L278.8,394.3 L279.5,394.3 L280.2,394.3 L280.9,394.2 L281.6,394.3 L282.4,394.3 L283.1,394.3 L283.8,394.3 L284.5,394.4 L285.2,394.4 L285.9,394.4 L286.6,394.3 L287.3,394.3 L288.0,394.3 L288.7,394.3 L289.4,394.2 L290.1,394.3 L290.8,394.3 L291.5,394.3 L292.2,394.3 L292.9,394.3 L293.6,394.3 L294.4,394.3 L295.1,394.4 L295.8,394.4 L296.5,394.3 L297.2,394.4 L297.9,394.4 L298.6,394.4 L299.3,394.4 L300.0,394.4 L300.7,394.4 L301.4,394.3 L302.1,394.3 L302.8,394.4 L303.5,394.5 L304.2,394.4 L304.9,394.4 L305.6,394.4 L306.3,394.4 L307.0,394.4 L307.7,394.5 L308.5,394.5 L309.2,394.5 L309.9,394.5 L310.6,394.4 L311.3,394.3 L312.0,394.3 L312.7,394.3 L313.4,394.3 L314.1,394.2 L314.8,394.3 L315.5,394.4 L316.2,394.4 L316.9,394.4 L317.6,394.5 L318.3,394.4 L319.0,394.4 L319.7,394.4 L320.4,394.3 L321.1,394.4 L321.8,394.3 L322.5,394.4 L323.2,394.4 L323.9,394.4 L324.6,394.4 L325.4,394.4 L326.1,394.4 L326.8,394.3 L327.5,394.4 L328.2,394.4 L328.9,394.4 L329.6,394.3 L330.3,394.3 L331.0,394.3 L331.7,394.4 L332.4,394.4 L333.1,394.4 L333.8,394.3 L334.5,394.4 L335.2,394.4 L335.9,394.4 L336.6,394.4 L337.3,394.3 L338.0,394.3 L338.7,394.3 L339.4,394.4 L340.1,394.4 L340.8,394.3 L341.5,394.3 L342.3,394.4 L343.0,394.3 L343.7,394.3 L344.4,394.2 L345.1,394.2 L345.8,394.2 L346.5,394.2 L347.2,394.2 L347.9,394.2 L348.6,394.3 L349.3,394.2 L350.0,394.3 L350.7,394.2 L351.4,394.2 L352.1,394.3 L352.8,394.3 L353.5,394.3 L354.2,394.4 L354.9,394.4 L355.6,394.3 L356.3,394.3 L357.0,394.2 L357.7,394.3 L358.5,394.4 L359.2,394.3 L359.9,394.3 L360.6,394.3 L361.3,394.3 L362.0,394.3 L362.7,394.3 L363.4,394.2 L364.1,394.2 L364.8,394.2 L365.5,394.2 L366.2,394.3 L366.9,394.2 L367.6,394.3 L368.3,394.2 L369.0,394.2 L369.7,394.2 L370.4,394.2 L371.1,394.3 L371.8,394.2 L372.5,394.2 L373.2,394.2 L373.9,394.2 L374.6,394.3 L375.4,394.2 L376.1,394.3 L376.8,394.2 L377.5,394.3 L378.2,394.3 L378.9,394.2 L379.6,394.2 L380.3,394.2 L381.0,394.2 L381.7,394.2 L382.4,394.2 L383.1,394.3 L383.8,394.3 L384.5,394.4 L385.2,394.2 L385.9,394.2 L386.6,394.3 L387.3,394.2 L388.0,394.2 L388.7,394.2 L389.4,394.3 L390.1,394.2 L390.8,394.2 L391.5,394.2 L392.3,394.2 L393.0,394.1 L393.7,394.2 L394.4,394.2 L395.1,394.2 L395.8,394.2 L396.5,394.2 L397.2,394.2 L397.9,394.2 L398.6,394.1 L399.3,394.1 L400.0,394.2 L400.7,394.2 L401.4,394.2 L402.1,394.1 L402.8,394.1 L403.5,394.1 L404.2,394.2 L404.9,394.1 L405.6,394.1 L406.3,394.2 L407.0,394.2 L407.7,394.3 L408.4,394.2 L409.1,394.2 L409.8,394.1 L410.5,394.2 L411.2,394.2 L411.9,394.2 L412.7,394.1 L413.4,394.2 L414.1,394.2 L414.8,394.2 L415.5,394.3 L416.2,394.2 L416.9,394.1 L417.6,394.2 L418.3,394.2 L419.0,394.3 L419.7,394.2 L420.4,394.1 L421.1,394.2 L421.8,394.2 L422.5,394.1 L423.2,394.1 L423.9,394.2 L424.6,394.1 L425.3,394.1 L426.0,394.1 L426.7,394.2 L427.4,394.1 L428.1,394.2 L428.8,394.2 L429.5,394.3 L430.2,394.2 L430.9,394.2 L431.6,394.2 L432.3,394.2 L433.0,394.1 L433.7,394.2 L434.4,394.3 L435.1,394.2 L435.8,394.2 L436.5,394.2 L437.3,394.2 L438.0,394.1 L438.7,394.2 L439.4,394.1 L440.1,394.1 L440.8,394.1 L441.5,394.1 L442.2,394.2 L442.9,394.1 L443.6,394.1 L444.3,394.1 L445.0,394.1 L445.7,394.0 L446.4,394.1 L447.1,394.1 L447.8,394.2 L448.5,394.2 L449.2,394.1 L449.9,394.2 L450.6,394.2 L451.3,394.1 L452.0,394.1 L452.7,394.1 L453.4,394.1 L454.1,394.1 L454.8,394.1 L455.5,394.1 L456.2,394.1 L456.9,394.1 L457.6,394.2 L458.3,394.1 L459.0,394.1 L459.7,394.2 L460.4,394.1 L461.1,394.2 L461.9,394.2 L462.6,394.2 L463.3,394.2 L464.0,394.2 L464.7,394.2 L465.4,394.2 L466.1,394.2 L466.8,394.2 L467.5,394.2 L468.2,394.1 L468.9,394.1 L469.6,394.1 L470.3,394.2 L471.0,394.2 L471.7,394.3 L472.4,394.3 L473.1,394.3 L473.8,394.1 L474.5,394.1 L475.2,394.2 L475.9,394.3 L476.6,394.2 L477.3,394.1 L478.0,394.2 L478.7,394.1 L479.4,394.1 L480.1,394.1 L480.8,394.1 L481.5,394.1 L482.2,394.0 L482.9,394.0 L483.6,394.1 L484.3,394.2 L485.0,394.2 L485.7,394.2 L486.5,394.2 L487.2,394.2 L487.9,394.3 L488.6,394.1 L489.3,394.2 L490.0,394.1 L490.7,394.1 L491.4,394.1 L492.1,394.1 L492.8,394.2 L493.5,394.2 L494.2,394.1 L494.9,394.1 L495.6,394.1 L496.3,394.2 L497.0,394.1 L497.7,394.1 L498.4,394.1 L499.1,394.1 L499.8,394.1 L500.5,394.2 L501.2,394.2 L501.9,394.1 L502.6,394.1 L503.3,394.1 L504.0,394.1 L504.7,394.0 L505.4,394.0 L506.1,394.0 L506.8,394.0 L507.5,394.0 L508.2,394.0 L508.9,394.0 L509.6,394.0 L510.3,394.1 L511.1,394.1 L511.8,394.1 L512.5,394.1 L513.2,394.1 L513.9,394.1 L514.6,394.1 L515.3,394.1 L516.0,394.1 L516.7,394.1 L517.4,394.1 L518.1,394.0 L518.8,394.0 L519.5,394.1 L520.2,394.1 L520.9,394.1 L521.6,394.0 L522.3,394.0 L523.0,394.1" stroke="#3fd35c"/>
<path d="M54.0,50.2 L54.8,50.2 L54.8,50.9 L54.8,51.6 L54.9,52.3 L54.9,53.0 L54.9,53.7 L54.9,54.4 L55.0,55.1 L55.0,55.9 L54.9,56.6 L55.0,57.3 L55.0,58.0 L55.0,58.7 L55.2,59.4 L55.1,60.1 L55.2,60.8 L55.1,61.5 L54.9,62.2 L55.2,62.9 L55.2,63.6 L55.0,64.3 L55.1,65.0 L55.2,65.7 L55.3,66.4 L55.2,67.2 L55.1,67.9 L55.5,68.6 L55.5,69.3 L55.3,70.0 L55.3,70.7 L55.3,71.4 L55.5,72.1 L55.6,72.8 L55.8,73.5 L55.9,74.3 L55.9,75.0 L56.1,75.7 L56.2,76.4 L56.3,77.2 L56.3,77.9 L56.4,78.6 L56.5,79.4 L56.7,80.1 L56.5,80.8 L56.8,81.5 L56.6,82.3 L56.8,83.0 L57.0,83.8 L57.2,84.5 L57.6,85.2 L57.7,86.0 L57.8,86.8 L58.1,87.5 L58.4,88.2 L58.5,89.0 L58.5,89.7 L58.7,90.4 L58.9,91.1 L59.1,91.8 L59.2,92.5 L59.4,93.2 L59.6,93.9 L59.8,94.6 L59.9,95.3 L60.3,96.0 L60.4,96.7 L60.4,97.4 L60.4,98.1 L60.3,98.8 L60.3,99.6 L60.2,100.3 L60.4,101.0 L60.6,101.7 L60.4,102.4 L60.7,103.1 L60.7,103.8 L60.9,104.5 L61.0,105.3 L61.2,106.0 L61.0,106.7 L60.9,107.4 L61.2,108.1 L61.0,108.8 L60.9,109.6 L61.2,110.3 L61.3,111.0 L61.6,111.7 L61.8,112.5 L61.8,113.2 L62.0,113.9 L62.0,114.7 L62.0,115.4 L62.2,116.1 L62.2,116.8 L62.2,117.6 L62.3,118.3 L62.4,119.0 L62.7,119.7 L62.8,120.5 L62.8,121.2 L62.7,121.9 L62.9,122.6 L63.0,123.3 L63.2,124.0 L63.4,124.7 L63.7,125.4 L64.0,126.1 L64.0,126.8 L64.0,127.5 L64.2,128.1 L64.5,128.8 L64.4,129.5 L64.5,130.2 L64.8,130.9 L64.7,131.6 L64.8,132.3 L65.2,133.0 L65.4,133.7 L65.4,134.4 L65.6,135.1 L66.2,135.7 L66.6,136.4 L67.1,137.0 L67.5,137.7 L68.0,138.3 L67.8,139.0 L67.6,139.7 L67.6,140.4 L67.7,141.1 L67.7,141.8 L67.6,142.5 L67.6,143.3 L67.8,144.0 L67.9,144.7 L67.8,145.4 L68.1,146.1 L68.1,146.8 L67.9,147.5 L67.9,148.2 L68.1,149.0 L68.0,149.8 L68.1,150.5 L67.9,151.2 L67.9,152.0 L68.2,152.7 L68.4,153.4 L68.5,154.1 L68.4,154.8 L68.6,155.5 L68.7,156.2 L68.7,156.9 L68.9,157.6 L69.0,158.2 L69.3,158.9 L69.4,159.6 L69.3,160.3 L69.3,161.0 L69.3,161.7 L69.6,162.4 L69.5,163.1 L69.5,163.8 L69.6,164.6 L69.9,165.3 L70.2,166.0 L70.3,166.7 L70.5,167.5 L70.4,168.2 L70.3,168.9 L70.7,169.6 L70.7,170.4 L71.0,171.1 L71.0,171.8 L71.0,172.6 L71.1,173.3 L71.1,174.0 L71.5,174.7 L71.6,175.5 L71.7,176.2 L71.8,176.9 L71.9,177.6 L71.8,178.3 L72.2,179.0 L72.4,179.7 L72.7,180.4 L72.7,181.1 L72.8,181.8 L72.8,182.5 L72.7,183.2 L73.2,183.9 L73.4,184.6 L73.4,185.3 L73.7,186.0 L73.8,186.7 L73.8,187.4 L73.9,188.1 L74.2,188.8 L74.2,189.5 L74.5,190.2 L74.4,190.9 L74.4,191.7 L74.7,192.4 L74.6,193.1 L74.7,193.8 L75.0,194.5 L75.1,195.2 L75.2,196.1 L75.3,196.5 L75.5,197.0 L75.6,197.7 L75.7,198.3 L75.9,199.6 L76.0,200.1 L76.1,200.8 L76.2,201.3 L76.4,202.1 L76.5,202.8 L76.6,203.5 L76.8,203.9 L76.9,204.5 L77.2,205.7 L77.5,206.2 L77.8,206.8 L78.0,207.3 L78.3,207.9 L78.6,208.5 L78.7,209.1 L78.8,210.1 L78.9,210.8 L79.0,211.4 L79.1,212.4 L79.2,212.8 L79.4,213.5 L79.5,214.6 L79.6,215.0 L79.7,215.8 L79.8,216.8 L79.9,217.7 L80.0,218.0 L80.1,218.7 L80.1,219.6 L80.2,220.2 L80.3,221.3 L80.4,221.7 L80.4,222.8 L80.5,223.4 L80.6,223.8 L80.7,224.6 L80.7,225.0 L80.8,226.1 L80.9,226.6 L80.9,227.7 L81.0,228.5 L81.1,229.0 L81.2,229.6 L81.2,230.4 L81.3,231.0 L81.4,232.0 L81.5,232.4 L81.6,233.2 L81.6,234.0 L81.7,234.5 L81.8,235.5 L81.9,236.1 L82.0,236.9 L82.1,237.6 L82.2,238.1 L82.3,238.8 L82.3,239.2 L82.4,239.8 L82.5,241.0 L82.6,241.5 L82.7,242.4 L82.8,242.8 L82.9,243.7 L83.1,244.3 L83.2,245.1 L83.3,245.6 L83.4,246.1 L83.5,246.8 L83.7,247.5 L83.8,248.1 L83.9,249.1 L84.0,249.7 L84.1,250.5 L84.3,251.6 L84.4,252.4 L84.6,253.3 L84.7,254.1 L84.9,254.3 L85.0,254.8 L85.2,255.2 L85.3,256.2 L85.5,257.1 L85.6,257.7 L85.8,258.4 L85.9,259.2 L86.1,260.1 L86.2,260.5 L86.4,261.5 L86.5,262.0 L86.6,262.8 L86.7,263.2 L86.7,263.7 L86.8,264.9 L86.9,265.8 L87.0,266.6 L87.1,266.8 L87.2,267.2 L87.2,267.9 L87.3,268.6 L87.4,269.3 L87.5,270.2 L87.6,270.7 L87.7,271.5 L87.7,272.5 L87.8,273.0 L87.9,274.1 L88.0,274.9 L88.1,275.7 L88.1,276.2 L88.2,276.9 L88.3,277.7 L88.4,278.3 L88.5,278.7 L88.6,279.8 L88.6,280.7 L88.7,281.2 L88.8,281.6 L88.9,282.7 L89.0,283.5 L89.1,283.8 L89.1,284.4 L89.2,285.0 L89.3,286.1 L89.4,286.6 L89.5,287.7 L89.6,288.6 L89.7,288.8 L89.7,289.7 L89.8,290.3 L89.9,291.2 L90.0,292.1 L90.1,292.5 L90.2,292.9 L90.3,294.0 L90.4,294.6 L90.5,295.6 L90.6,296.3 L90.6,297.0 L90.7,297.8 L90.8,298.4 L90.9,298.9 L91.0,299.2 L91.1,300.1 L91.2,300.8 L91.4,301.6 L91.5,302.6 L91.6,302.9 L91.7,303.9 L91.9,304.2 L92.0,305.2 L92.1,306.2 L92.2,306.6 L92.3,307.4 L92.5,308.5 L92.6,309.2 L92.7,309.8 L92.8,310.3 L93.0,310.7 L93.1,311.4 L93.2,312.2 L93.3,312.9 L93.5,313.7 L93.6,314.4 L93.8,315.5 L93.9,316.5 L94.1,317.0 L94.2,317.7 L94.4,318.6 L94.5,319.3 L94.7,320.4 L94.8,320.9 L95.0,321.5 L95.1,322.5 L95.3,322.9 L95.5,323.7 L95.6,324.3 L95.8,325.4 L95.9,326.1 L96.1,326.9 L96.2,327.3 L96.4,328.2 L96.6,329.0 L96.8,329.6 L97.1,330.5 L97.3,331.4 L97.5,331.7 L97.7,332.3 L98.0,333.0 L98.2,333.6 L98.4,334.1 L98.7,334.9 L98.9,335.5 L99.2,336.5 L99.4,337.2 L99.7,337.6 L100.0,338.3 L100.2,339.1 L100.5,339.7 L100.7,340.2 L101.0,340.7 L101.6,341.1 L102.1,342.4 L102.7,343.1 L103.2,343.3 L103.8,344.1 L104.3,345.0 L104.9,345.5 L105.4,345.6 L106.0,346.2 L106.5,346.7 L107.0,347.0 L107.6,347.7 L108.1,347.9 L108.6,348.9 L109.1,349.5 L109.7,350.1 L110.2,350.8 L110.9,351.1 L111.5,351.1 L112.2,351.2 L112.8,351.4 L113.5,351.5 L114.1,352.3 L114.8,352.9 L115.4,353.0 L115.9,353.7 L116.2,354.7 L116.4,355.7 L116.7,356.6 L117.0,356.9 L117.2,357.9 L117.5,358.7 L117.7,359.5 L118.0,359.9 L118.4,360.2 L118.8,361.2 L119.3,361.6 L119.7,362.1 L120.1,362.8 L120.5,363.3 L121.0,364.3 L121.4,364.6 L121.8,364.9 L122.4,365.6 L123.1,366.2 L123.7,366.9 L124.3,367.4 L124.9,368.1 L125.6,368.7 L126.2,368.9 L126.8,369.0 L127.5,369.0 L128.1,369.2 L128.7,369.7 L129.4,369.7 L130.0,370.3 L130.6,370.4 L131.3,370.7 L131.9,371.5 L132.5,371.4 L133.2,371.4 L133.8,371.9 L134.5,372.0 L135.2,372.5 L135.8,372.3 L136.5,372.9 L137.2,373.4 L137.9,373.7 L138.5,373.7 L139.2,373.6 L139.9,374.0 L140.6,374.1 L141.2,374.2 L141.9,374.3 L142.6,374.5 L143.3,374.8 L143.9,375.3 L144.6,375.6 L145.3,375.4 L146.0,375.4 L146.6,375.6 L147.3,375.9 L148.0,376.0 L148.7,375.9 L149.5,375.8 L150.2,376.0 L150.9,376.3 L151.6,376.9 L152.4,377.2 L153.1,377.5 L153.8,377.7 L154.6,377.9 L155.3,377.8 L156.0,378.0 L156.7,377.5 L157.5,377.8 L158.2,377.9 L158.9,377.8 L159.6,378.0 L160.4,378.4 L161.1,378.4 L161.8,378.5 L162.6,378.4 L163.3,378.4 L164.0,378.8 L164.7,378.5 L165.5,378.5 L166.2,378.9 L166.9,379.0 L167.6,378.8 L168.4,379.2 L169.1,379.2 L169.8,379.4 L170.5,379.5 L171.3,379.7 L172.0,379.8 L172.7,379.8 L173.4,379.6 L174.2,379.5 L174.9,380.0 L175.6,380.1 L176.3,379.8 L177.0,380.3 L177.8,380.1 L178.5,379.9 L179.2,380.1 L179.9,380.1 L180.6,380.2 L181.4,380.4 L182.1,380.3 L182.8,380.5 L183.5,380.3 L184.2,380.5 L185.0,380.7 L185.7,380.4 L186.4,380.6 L187.1,380.4 L187.8,380.6 L188.6,381.1 L189.3,381.1 L190.0,381.3 L190.7,381.5 L191.4,381.1 L192.1,381.5 L192.8,381.6 L193.5,381.2 L194.2,381.5 L194.9,381.4 L195.6,381.1 L196.3,381.6 L197.0,381.6 L197.7,381.8 L198.5,381.4 L199.2,381.7 L199.9,381.3 L200.6,381.2 L201.3,381.3 L202.0,381.1 L202.7,381.4 L203.4,381.3 L204.1,381.3 L204.8,381.7 L205.5,381.7 L206.2,382.1 L206.9,382.1 L207.6,382.3 L208.3,382.2 L209.0,382.4 L209.7,382.6 L210.4,382.1 L211.1,382.3 L211.8,382.1 L212.5,382.3 L213.2,382.4 L213.9,382.6 L214.6,382.1 L215.4,382.1 L216.1,382.4 L216.8,382.7 L217.5,382.7 L218.2,382.2 L218.9,382.4 L219.6,382.1 L220.3,382.3 L221.0,382.6 L221.7,382.3 L222.4,382.7 L223.1,382.8 L223.8,382.6 L224.5,382.4 L225.2,382.5 L225.9,382.8 L226.6,382.9 L227.3,382.5 L228.0,382.3 L228.7,382.2 L229.4,382.7 L230.1,382.6 L230.8,382.8 L231.5,382.7 L232.3,383.0 L233.0,382.9 L233.7,382.7 L234.4,383.1 L235.1,383.2 L235.8,383.3 L236.5,383.5 L237.2,383.7 L237.9,383.2 L238.6,383.1 L239.3,382.9 L240.0,383.1 L240.7,383.5 L241.4,383.6 L242.1,383.2 L242.9,383.1 L243.6,383.4 L244.3,383.6 L245.0,383.4 L245.7,383.4 L246.4,383.2 L247.1,383.6 L247.9,383.5 L248.6,383.8 L249.3,383.8 L250.0,383.4 L250.7,383.4 L251.4,383.3 L252.1,383.7 L252.9,383.8 L253.6,383.4 L254.3,383.3 L255.0,383.4 L255.7,383.5 L256.4,383.7 L257.1,383.6 L257.9,383.6 L258.6,383.3 L259.3,383.6 L260.0,383.6 L260.7,383.4 L261.4,383.6 L262.1,384.0 L262.9,383.7 L263.6,383.5 L264.3,383.8 L265.0,383.7 L265.7,383.7 L266.4,383.8 L267.1,383.8 L267.9,383.9 L268.6,384.0 L269.3,384.4 L270.0,384.6 L270.7,384.1 L271.4,384.2 L272.1,384.3 L272.9,384.5 L273.6,384.6 L274.3,384.5 L275.0,384.5 L275.7,384.3 L276.4,384.1 L277.1,384.4 L277.9,384.6 L278.6,384.8 L279.3,384.7 L280.0,384.4 L280.7,384.5 L281.4,384.6 L282.1,384.5 L282.9,384.5 L283.6,384.4 L284.3,384.4 L285.0,384.3 L285.7,384.0 L286.4,384.1 L287.1,384.1 L287.9,384.6 L288.6,384.5 L289.3,384.4 L290.0,384.2 L290.7,384.1 L291.4,384.2 L292.1,384.0 L292.9,383.9 L293.6,384.4 L294.3,384.4 L295.0,384.4 L295.7,384.5 L296.4,384.4 L297.1,384.2 L297.9,384.1 L298.6,384.1 L299.3,384.2 L300.0,384.5 L300.7,384.6 L301.4,384.9 L302.1,384.7 L302.8,384.9 L303.5,384.9 L304.2,384.5 L304.9,384.3 L305.6,384.5 L306.3,384.9 L307.0,384.7 L307.7,384.8 L308.5,384.7 L309.2,384.9 L309.9,384.5 L310.6,384.5 L311.3,384.9 L312.0,384.6 L312.7,384.4 L313.4,384.2 L314.1,384.1 L314.8,384.2 L315.5,384.5 L316.2,384.4 L316.9,384.4 L317.6,384.3 L318.3,384.5 L319.0,384.8 L319.7,384.8 L320.4,384.6 L321.1,384.8 L321.8,385.0 L322.5,384.9 L323.2,384.5 L323.9,384.8 L324.6,385.0 L325.4,384.7 L326.1,384.5 L326.8,384.3 L327.5,384.5 L328.2,384.8 L328.9,384.8 L329.6,385.1 L330.3,384.7 L331.0,384.6 L331.7,384.8 L332.4,384.8 L333.1,384.7 L333.8,384.8 L334.5,384.6 L335.2,384.4 L335.9,384.4 L336.6,384.2 L337.3,384.5 L338.0,384.4 L338.7,384.5 L339.4,384.7 L340.1,384.5 L340.8,384.5 L341.5,384.3 L342.3,384.7 L343.0,384.8 L343.7,385.1 L344.4,384.6 L345.1,384.7 L345.8,384.9 L346.5,384.7 L347.2,384.4 L347.9,384.3 L348.6,384.2 L349.3,384.6 L350.0,384.3 L350.7,384.7 L351.4,384.6 L352.1,384.7 L352.8,384.8 L353.5,384.8 L354.2,384.8 L354.9,384.9 L355.6,384.7 L356.3,384.8 L357.0,384.6 L357.7,384.8 L358.4,384.9 L359.1,385.0 L359.8,384.8 L360.5,384.9 L361.2,385.2 L361.9,384.9 L362.6,384.7 L363.4,384.7 L364.1,385.0 L364.8,384.6 L365.5,384.3 L366.2,384.4 L366.9,384.6 L367.6,384.8 L368.3,384.7 L369.0,385.0 L369.7,384.7 L370.4,384.9 L371.1,384.5 L371.8,384.2 L372.5,384.2 L373.2,384.1 L373.9,384.3 L374.6,384.5 L375.3,384.3 L376.0,384.8 L376.7,384.6 L377.4,384.4 L378.1,384.3 L378.8,384.6 L379.5,384.9 L380.2,384.6 L380.9,384.3 L381.6,384.6 L382.3,384.5 L383.0,384.9 L383.7,384.8 L384.4,384.8 L385.1,384.6 L385.8,384.9 L386.5,384.7 L387.2,384.6 L387.9,384.9 L388.6,384.5 L389.4,384.7 L390.1,384.4 L390.8,384.6 L391.5,384.5 L392.2,384.8 L392.9,384.5 L393.6,384.6 L394.3,384.5 L395.0,384.9 L395.7,385.1 L396.4,385.0 L397.1,384.7 L397.8,384.5 L398.5,384.4 L399.2,384.4 L399.9,384.3 L400.6,384.2 L401.3,384.6 L402.0,384.7 L402.7,384.5 L403.4,384.9 L404.1,384.6 L404.8,384.7 L405.5,384.4 L406.2,384.7 L406.9,385.0 L407.6,384.7 L408.3,384.8 L409.0,385.0 L409.7,384.7 L410.4,384.5 L411.1,384.6 L411.8,384.9 L412.5,384.5 L413.2,384.7 L413.9,384.7 L414.6,384.7 L415.4,384.7 L416.1,384.9 L416.8,384.6 L417.5,384.9 L418.2,384.7 L418.9,384.8 L419.6,385.0 L420.3,384.6 L421.0,384.9 L421.7,385.1 L422.4,384.8 L423.1,384.4 L423.8,384.2 L424.5,384.7 L425.2,384.3 L425.9,384.7 L426.6,384.4 L427.3,384.7 L428.0,384.4 L428.7,383.9 L429.3,383.9 L430.0,383.3 L430.6,383.0 L431.3,383.1 L432.0,383.4 L432.6,383.8 L433.3,384.2 L434.0,383.8 L434.7,383.8 L435.4,384.2 L436.1,384.4 L436.8,384.2 L437.5,384.4 L438.2,384.2 L438.9,384.3 L439.6,384.1 L440.3,383.9 L441.0,384.5 L441.7,384.4 L442.4,384.7 L443.1,384.3 L443.8,384.4 L444.5,384.2 L445.2,384.3 L445.9,384.1 L446.6,384.4 L447.3,384.2 L448.0,384.5 L448.7,384.5 L449.4,384.2 L450.1,384.2 L450.8,384.3 L451.5,384.7 L452.2,384.5 L452.9,384.3 L453.6,384.7 L454.3,384.9 L455.0,384.9 L455.7,384.6 L456.4,384.3 L457.1,384.2 L457.8,384.0 L458.5,383.9 L459.2,384.2 L459.9,384.2 L460.6,384.4 L461.3,384.3 L462.0,384.1 L462.7,384.4 L463.4,384.5 L464.1,384.5 L464.8,384.6 L465.5,384.7 L466.2,384.9 L466.9,385.0 L467.6,385.0 L468.3,384.7 L469.0,384.5 L469.7,384.4 L470.4,384.8 L471.1,384.6 L471.8,384.5 L472.5,384.4 L473.2,384.2 L473.9,384.7 L474.6,384.3 L475.3,384.4 L476.0,384.8 L476.7,384.5 L477.4,384.6 L478.1,384.5 L478.8,384.3 L479.5,384.2 L480.2,384.0 L481.0,384.5 L481.7,384.7 L482.4,384.9 L483.1,384.4 L483.8,384.6 L484.5,384.4 L485.2,384.6 L485.9,384.6 L486.6,384.4 L487.3,384.8 L488.0,384.3 L488.7,384.6 L489.4,384.8 L490.1,384.7 L490.8,384.7 L491.5,384.9 L492.2,384.6 L492.9,384.6 L493.6,384.8 L494.3,384.6 L495.0,384.7 L495.7,384.5 L496.4,384.5 L497.1,384.6 L497.8,384.7 L498.5,384.5 L499.2,384.6 L499.9,384.6 L500.6,384.4 L501.3,384.5 L502.0,384.3 L502.7,384.7 L503.4,384.6 L504.1,384.7 L504.8,384.6 L505.5,384.6 L506.2,384.3 L506.9,384.2 L507.6,384.6 L508.3,384.6 L509.0,384.6 L509.7,384.6 L510.4,384.8 L511.1,384.5 L511.8,384.3 L512.5,384.6 L513.2,384.5 L513.9,384.6 L514.6,384.8 L515.3,384.9 L516.0,385.0 L516.7,384.5 L517.4,384.4 L518.1,384.7 L518.8,384.8 L519.5,384.4 L520.2,384.2 L520.9,384.2 L521.6,384.0 L522.3,384.1 L523.0,384.5" stroke="#ff9a1e"/>
<path d="M55.2,50.2 L56.0,50.2 L56.0,50.9 L56.1,51.7 L56.1,52.4 L56.1,53.1 L56.2,53.8 L56.2,54.6 L56.3,55.3 L56.3,56.0 L56.3,56.7 L56.2,57.5 L56.3,58.2 L56.6,58.9 L56.6,59.7 L56.6,60.4 L56.6,61.1 L56.7,61.8 L56.8,62.6 L56.6,63.3 L56.7,64.0 L56.7,64.7 L56.8,65.5 L56.7,66.2 L56.7,66.9 L56.8,67.6 L56.8,68.3 L56.7,69.0 L56.8,69.8 L57.0,70.5 L56.9,71.2 L57.0,71.9 L57.2,72.6 L57.2,73.3 L57.2,74.0 L57.3,74.8 L57.5,75.5 L57.4,76.2 L57.6,76.9 L57.8,77.6 L57.7,78.3 L57.7,79.0 L57.9,79.7 L58.0,80.5 L57.9,81.2 L57.8,81.9 L57.9,82.6 L58.0,83.3 L58.1,84.0 L58.1,84.8 L58.1,85.5 L58.2,86.2 L58.4,87.0 L58.3,87.7 L58.2,88.4 L58.3,89.2 L58.5,89.9 L58.3,90.6 L58.6,91.3 L58.6,92.1 L58.5,92.8 L58.6,93.5 L58.5,94.3 L58.3,95.0 L58.5,95.7 L58.5,96.5 L58.6,97.2 L58.6,97.9 L58.9,98.6 L58.9,99.4 L58.7,100.1 L58.8,100.8 L58.8,101.5 L58.9,102.3 L59.1,103.0 L59.0,103.7 L59.0,104.5 L59.2,105.2 L59.2,105.9 L59.2,106.6 L59.2,107.4 L59.4,108.1 L59.5,108.8 L59.6,109.6 L59.6,110.3 L59.4,111.0 L59.7,111.7 L59.8,112.5 L60.0,113.2 L60.2,113.9 L60.0,114.7 L60.0,115.4 L60.0,116.1 L60.4,116.8 L60.3,117.6 L60.3,118.3 L60.7,119.0 L60.8,119.7 L60.7,120.5 L61.0,121.2 L61.1,121.9 L61.2,122.7 L61.0,123.4 L61.2,124.1 L61.3,124.9 L61.4,125.6 L61.7,126.3 L61.7,127.1 L61.9,127.8 L61.6,128.5 L61.6,129.3 L61.7,130.0 L61.6,130.7 L61.9,131.5 L61.9,132.2 L61.8,132.9 L61.9,133.7 L61.9,134.4 L62.3,135.1 L62.4,135.9 L62.4,136.6 L62.5,137.3 L62.4,138.0 L62.5,138.8 L62.9,139.5 L63.1,140.2 L63.3,140.9 L63.2,141.7 L63.1,142.4 L63.1,143.1 L63.3,143.9 L63.5,144.6 L63.6,145.3 L63.7,146.0 L63.9,146.8 L63.9,147.5 L64.2,148.2 L64.2,149.0 L64.5,149.8 L64.6,150.5 L64.4,151.2 L64.5,152.0 L64.9,152.7 L65.1,153.3 L65.4,154.0 L65.6,154.6 L65.8,155.3 L66.2,155.9 L66.3,156.6 L66.6,157.3 L66.9,158.0 L67.1,158.8 L67.2,159.5 L67.6,160.2 L67.6,160.9 L67.9,161.7 L67.8,162.4 L68.0,163.1 L68.1,163.8 L68.0,164.6 L68.2,165.3 L68.0,166.0 L68.1,166.7 L68.0,167.5 L68.3,168.2 L68.3,168.9 L68.4,169.6 L68.4,170.4 L68.4,171.1 L68.4,171.8 L68.3,172.6 L68.2,173.3 L68.4,174.0 L68.3,174.7 L68.5,175.5 L68.3,176.2 L68.3,177.0 L68.3,177.7 L68.6,178.5 L68.9,179.2 L68.9,180.0 L69.0,180.7 L69.0,181.5 L69.4,182.2 L69.7,183.0 L69.8,183.7 L69.9,184.5 L70.4,185.2 L70.5,186.0 L71.0,186.7 L71.1,187.4 L71.2,188.1 L71.4,188.8 L71.5,189.5 L71.7,190.2 L71.8,190.9 L72.2,191.7 L72.2,192.4 L72.5,193.1 L72.5,193.8 L72.8,194.5 L73.1,195.2 L73.1,195.9 L73.0,196.6 L73.3,197.3 L73.6,198.0 L73.7,198.7 L74.0,199.4 L74.0,200.1 L74.3,200.9 L74.6,201.6 L74.8,202.3 L75.0,203.1 L75.2,203.5 L75.4,204.5 L75.6,205.0 L75.8,206.0 L76.0,206.9 L76.3,207.7 L76.5,208.3 L76.7,208.8 L76.9,209.4 L77.2,210.3 L77.4,210.9 L77.6,211.9 L77.7,212.3 L77.8,213.0 L77.9,213.9 L78.0,214.6 L78.2,215.3 L78.3,215.8 L78.4,216.4 L78.5,217.1 L78.6,218.1 L78.7,219.0 L78.8,219.5 L78.8,220.5 L78.9,220.9 L79.0,221.7 L79.1,222.7 L79.1,223.3 L79.2,224.2 L79.3,224.9 L79.4,225.3 L79.5,226.0 L79.6,226.8 L79.7,227.4 L79.8,228.3 L79.9,228.9 L80.0,229.8 L80.1,230.4 L80.2,230.9 L80.3,231.8 L80.4,232.4 L80.5,233.3 L80.6,234.2 L80.6,235.0 L80.7,235.6 L80.8,236.1 L80.9,236.9 L81.0,237.5 L81.1,238.4 L81.2,239.0 L81.3,239.8 L81.4,240.5 L81.5,241.2 L81.6,242.0 L81.7,242.5 L81.9,243.1 L82.0,244.2 L82.1,244.8 L82.2,245.6 L82.3,246.5 L82.4,247.1 L82.5,247.5 L82.6,248.0 L82.7,249.0 L82.8,249.5 L82.8,250.3 L82.9,251.1 L83.0,251.6 L83.1,252.4 L83.1,253.0 L83.2,253.8 L83.3,254.6 L83.4,255.3 L83.4,255.9 L83.5,256.6 L83.6,257.2 L83.8,257.9 L83.9,258.7 L84.1,259.7 L84.3,260.5 L84.4,261.4 L84.6,261.9 L84.7,262.9 L84.8,263.6 L84.9,264.4 L85.0,265.1 L85.1,265.9 L85.2,266.4 L85.3,267.3 L85.3,267.8 L85.4,268.5 L85.5,269.0 L85.6,269.9 L85.7,270.7 L85.8,271.4 L85.9,272.4 L86.0,272.9 L86.1,273.8 L86.2,274.4 L86.3,275.2 L86.4,276.1 L86.4,276.9 L86.5,277.3 L86.6,278.0 L86.7,278.9 L86.8,279.9 L86.9,280.3 L87.0,281.1 L87.1,281.9 L87.2,282.8 L87.2,283.3 L87.3,284.2 L87.4,284.8 L87.5,285.7 L87.6,286.1 L87.7,287.1 L87.8,287.6 L87.9,288.3 L88.0,288.8 L88.0,289.4 L88.1,290.3 L88.2,291.1 L88.3,291.6 L88.4,292.3 L88.5,292.9 L88.6,293.5 L88.7,294.2 L88.8,294.9 L88.9,296.0 L88.9,296.9 L89.0,297.6 L89.1,298.2 L89.2,298.8 L89.3,299.6 L89.4,300.5 L89.5,301.2 L89.6,301.9 L89.7,302.3 L89.8,303.1 L89.9,304.0 L90.0,304.8 L90.1,305.2 L90.2,306.0 L90.4,306.7 L90.5,307.2 L90.6,308.3 L90.7,309.0 L90.8,309.8 L90.9,310.3 L91.0,311.2 L91.1,312.1 L91.2,312.9 L91.3,313.6 L91.4,314.4 L91.5,315.1 L91.5,315.8 L91.6,316.4 L91.7,317.2 L91.8,318.0 L91.9,318.8 L92.0,319.3 L92.1,320.3 L92.2,320.9 L92.3,321.8 L92.4,322.2 L92.4,323.2 L92.5,324.0 L92.6,324.5 L92.7,325.3 L92.8,325.9 L92.9,326.5 L93.0,327.2 L93.1,327.9 L93.2,328.7 L93.3,329.6 L93.4,330.4 L93.5,331.1 L93.6,331.6 L93.7,332.5 L93.8,333.2 L93.9,333.9 L94.0,334.7 L94.2,335.4 L94.3,335.9 L94.4,336.3 L94.5,337.2 L94.6,338.0 L94.7,338.5 L94.8,339.3 L94.9,340.1 L95.0,340.9 L95.1,341.2 L95.4,341.9 L95.6,342.3 L95.9,342.9 L96.1,343.8 L96.4,344.5 L96.7,345.2 L96.9,345.8 L97.2,346.4 L97.4,346.9 L97.7,347.6 L98.1,348.5 L98.4,349.1 L98.8,349.6 L99.2,350.0 L99.5,350.5 L99.9,351.3 L100.2,351.9 L100.6,352.6 L101.0,353.4 L101.3,353.7 L101.7,354.4 L102.3,354.7 L102.8,355.4 L103.4,355.7 L104.0,356.2 L104.6,357.0 L105.2,357.3 L105.7,357.7 L106.3,358.4 L106.8,359.0 L107.3,359.6 L107.9,360.0 L108.4,360.5 L108.9,361.2 L109.4,361.6 L109.9,362.4 L110.5,362.6 L111.0,363.3 L111.5,363.5 L112.2,363.9 L112.9,363.9 L113.7,364.1 L114.4,364.8 L115.1,365.0 L115.8,365.5 L116.2,366.0 L116.6,366.6 L117.0,367.1 L117.3,368.0 L117.7,368.9 L118.1,369.6 L118.5,370.2 L119.0,370.9 L119.6,371.6 L120.2,372.1 L120.7,372.3 L121.2,372.9 L121.8,373.4 L122.4,374.2 L122.9,374.6 L123.6,374.9 L124.3,375.1 L124.9,375.3 L125.6,375.5 L126.3,375.8 L127.0,376.2 L127.7,376.4 L128.4,376.5 L129.0,377.0 L129.7,376.9 L130.4,377.3 L131.1,377.6 L131.8,377.8 L132.4,378.0 L133.1,378.3 L133.8,378.7 L134.5,378.9 L135.2,379.0 L135.9,378.8 L136.6,378.9 L137.4,378.9 L138.1,379.4 L138.8,379.8 L139.5,379.6 L140.2,379.9 L140.9,380.1 L141.6,380.0 L142.3,380.1 L143.0,380.5 L143.7,380.7 L144.4,380.7 L145.2,381.1 L145.9,381.1 L146.6,381.3 L147.3,381.4 L148.0,381.8 L148.7,381.9 L149.5,382.1 L150.2,382.2 L150.9,382.2 L151.6,382.5 L152.4,382.6 L153.1,382.7 L153.8,382.6 L154.6,382.6 L155.3,382.8 L156.0,383.1 L156.7,383.3 L157.5,383.3 L158.2,383.2 L158.9,383.4 L159.6,383.7 L160.4,383.6 L161.1,383.9 L161.8,383.8 L162.6,383.9 L163.3,383.8 L164.0,384.0 L164.7,384.2 L165.5,384.7 L166.2,385.0 L166.9,384.8 L167.6,384.9 L168.4,385.2 L169.1,385.1 L169.8,385.2 L170.5,385.3 L171.3,385.3 L172.0,385.4 L172.7,385.5 L173.4,385.6 L174.2,386.0 L174.9,385.8 L175.6,385.8 L176.3,386.1 L177.0,386.1 L177.8,386.3 L178.5,386.3 L179.2,386.4 L179.9,386.3 L180.6,386.1 L181.4,386.4 L182.1,386.4 L182.8,386.5 L183.5,386.6 L184.2,386.7 L185.0,386.6 L185.7,386.5 L186.4,386.8 L187.1,386.8 L187.8,386.7 L188.6,386.8 L189.3,386.8 L190.0,387.0 L190.7,386.7 L191.4,387.0 L192.1,387.0 L192.8,386.9 L193.5,387.2 L194.2,387.0 L194.9,386.9 L195.6,386.7 L196.3,386.9 L197.0,387.1 L197.7,387.2 L198.5,387.1 L199.2,387.2 L199.9,387.0 L200.6,386.9 L201.3,387.1 L202.0,387.3 L202.7,387.3 L203.4,387.4 L204.1,387.4 L204.8,387.3 L205.5,387.5 L206.2,387.5 L206.9,387.3 L207.6,387.2 L208.3,387.4 L209.0,387.3 L209.7,387.1 L210.4,387.4 L211.1,387.4 L211.8,387.3 L212.5,387.4 L213.2,387.6 L213.9,387.3 L214.6,387.2 L215.4,387.1 L216.1,387.2 L216.8,387.3 L217.5,387.5 L218.2,387.6 L218.9,387.5 L219.6,387.5 L220.3,387.5 L221.0,387.4 L221.7,387.6 L222.4,387.7 L223.1,387.8 L223.8,387.5 L224.5,387.6 L225.2,387.7 L225.9,387.7 L226.6,387.8 L227.3,387.9 L228.0,387.9 L228.7,388.0 L229.4,387.9 L230.1,387.9 L230.8,387.7 L231.5,387.7 L232.3,387.8 L233.0,387.8 L233.7,387.7 L234.4,387.6 L235.1,387.7 L235.8,387.8 L236.5,387.7 L237.2,387.7 L237.9,387.6 L238.6,387.6 L239.3,387.7 L240.0,387.9 L240.7,387.9 L241.4,387.9 L242.2,387.9 L242.9,387.8 L243.6,387.9 L244.3,387.8 L245.0,387.7 L245.7,387.8 L246.5,387.7 L247.2,387.7 L247.9,387.7 L248.6,387.8 L249.3,387.8 L250.0,387.9 L250.8,387.8 L251.5,387.9 L252.2,387.8 L252.9,387.8 L253.6,387.9 L254.3,387.9 L255.1,387.9 L255.8,387.9 L256.5,387.9 L257.2,388.0 L257.9,387.9 L258.6,388.0 L259.4,388.1 L260.1,388.1 L260.8,387.9 L260.9,387.3 L261.0,386.4 L261.1,385.8 L261.1,385.0 L261.2,384.2 L261.3,383.6 L261.4,382.9 L261.5,382.2 L261.6,382.9 L261.7,383.6 L261.8,384.3 L261.9,384.9 L262.0,385.8 L262.1,386.6 L262.2,387.3 L262.3,388.0 L263.0,387.9 L263.7,388.0 L264.4,387.8 L265.1,387.8 L265.9,387.8 L266.6,387.8 L267.3,387.9 L268.0,387.9 L268.7,387.9 L269.4,387.9 L270.1,387.8 L270.8,387.9 L271.5,387.8 L272.3,387.8 L273.0,387.9 L273.7,388.0 L274.4,388.0 L275.1,387.9 L275.8,388.0 L276.5,387.9 L277.2,387.9 L277.9,388.0 L278.7,388.1 L279.4,388.2 L280.1,388.2 L280.8,388.3 L281.5,388.3 L282.2,388.3 L282.9,388.3 L283.6,388.1 L284.4,388.1 L285.1,388.0 L285.8,388.2 L286.5,388.2 L287.2,388.3 L287.9,388.2 L288.6,388.2 L289.3,388.1 L290.0,388.2 L290.8,388.4 L291.5,388.3 L292.2,388.2 L292.9,388.1 L293.6,388.2 L294.3,388.3 L295.0,388.4 L295.7,388.4 L296.4,388.3 L297.2,388.2 L297.9,388.2 L298.6,388.3 L299.3,388.4 L300.0,388.5 L300.7,388.6 L301.4,388.6 L302.1,388.5 L302.8,388.5 L303.5,388.4 L304.2,388.3 L304.9,388.4 L305.6,388.4 L306.3,388.3 L307.0,388.3 L307.7,388.2 L308.4,388.4 L309.1,388.4 L309.8,388.5 L310.5,388.6 L311.2,388.5 L311.9,388.5 L312.6,388.4 L313.3,388.5 L314.0,388.5 L314.7,388.4 L315.4,388.3 L316.1,388.2 L316.8,388.3 L317.5,388.3 L318.2,388.2 L318.9,388.4 L319.6,388.5 L320.3,388.4 L321.0,388.3 L321.7,388.4 L322.4,388.4 L323.1,388.3 L323.8,388.3 L324.5,388.4 L325.2,388.5 L325.9,388.4 L326.6,388.5 L327.3,388.4 L328.1,388.3 L328.8,388.4 L329.5,388.4 L330.2,388.3 L330.9,388.3 L331.6,388.3 L332.3,388.2 L333.0,388.3 L333.7,388.3 L334.4,388.4 L335.1,388.4 L335.8,388.4 L336.5,388.3 L337.2,388.4 L337.9,388.3 L338.6,388.3 L339.3,388.3 L340.0,388.4 L340.7,388.4 L341.4,388.3 L342.1,388.4 L342.8,388.4 L343.5,388.4 L344.2,388.3 L344.9,388.4 L345.6,388.4 L346.3,388.3 L347.0,388.3 L347.7,388.4 L348.4,388.3 L349.1,388.3 L349.8,388.4 L350.5,388.5 L351.2,388.5 L351.9,388.5 L352.6,388.3 L353.3,388.2 L354.0,388.4 L354.7,388.5 L355.4,388.3 L356.1,388.2 L356.8,388.2 L357.5,388.4 L358.2,388.3 L358.9,388.4 L359.6,388.5 L360.3,388.5 L361.0,388.5 L361.7,388.4 L362.4,388.3 L363.1,388.2 L363.8,388.3 L364.5,388.3 L365.2,388.4 L365.9,388.5 L366.6,388.3 L367.3,388.4 L368.0,388.3 L368.7,388.3 L369.4,388.3 L370.1,388.4 L370.8,388.5 L371.5,388.5 L372.2,388.3 L372.9,388.4 L373.6,388.4 L374.3,388.5 L375.0,388.4 L375.7,388.4 L376.4,388.4 L377.1,388.5 L377.8,388.3 L378.5,388.2 L379.2,388.3 L379.9,388.3 L380.6,388.3 L381.3,388.2 L382.0,388.3 L382.7,388.2 L383.4,388.4 L384.2,388.4 L384.9,388.4 L385.6,388.3 L386.3,388.4 L387.0,388.3 L387.7,388.3 L388.4,388.2 L389.1,388.4 L389.8,388.4 L390.5,388.3 L391.2,388.2 L391.9,388.3 L392.6,388.4 L393.3,388.5 L394.0,388.3 L394.7,388.3 L395.4,388.3 L396.1,388.4 L396.8,388.3 L397.5,388.3 L398.2,388.5 L398.9,388.5 L399.6,388.3 L400.3,388.2 L401.0,388.2 L401.7,388.3 L402.4,388.3 L403.1,388.4 L403.8,388.3 L404.5,388.3 L405.2,388.4 L405.9,388.4 L406.6,388.5 L407.3,388.5 L408.0,388.5 L408.7,388.6 L409.4,388.6 L410.1,388.5 L410.8,388.3 L411.5,388.4 L412.2,388.5 L412.9,388.4 L413.6,388.5 L414.3,388.3 L415.0,388.5 L415.7,388.4 L416.4,388.4 L417.1,388.3 L417.8,388.3 L418.5,388.3 L419.2,388.3 L419.9,388.2 L420.6,388.2 L421.3,388.4 L422.0,388.4 L422.7,388.5 L423.4,388.5 L424.1,388.5 L424.8,388.6 L425.5,388.5 L426.2,388.4 L426.9,388.3 L427.6,388.3 L428.3,388.2 L429.0,388.2 L429.7,388.3 L430.4,388.5 L431.1,388.4 L431.8,388.4 L432.5,388.5 L433.2,388.5 L433.9,388.5 L434.6,388.5 L435.3,388.3 L436.0,388.4 L436.7,388.3 L437.4,388.4 L438.1,388.3 L438.8,388.3 L439.6,388.5 L440.3,388.3 L441.0,388.3 L441.7,388.4 L442.4,388.4 L443.1,388.5 L443.8,388.4 L444.5,388.5 L445.2,388.5 L445.9,388.5 L446.6,388.3 L447.3,388.3 L448.0,388.2 L448.7,388.4 L449.4,388.2 L450.1,388.2 L450.8,388.3 L451.5,388.4 L452.2,388.3 L452.9,388.3 L453.6,388.4 L454.3,388.4 L455.0,388.4 L455.7,388.5 L456.4,388.3 L457.1,388.3 L457.8,388.2 L458.5,388.3 L459.2,388.2 L459.9,388.2 L460.6,388.4 L461.3,388.4 L462.0,388.4 L462.7,388.4 L463.4,388.4 L464.1,388.4 L464.8,388.3 L465.5,388.2 L466.2,388.1 L466.9,388.1 L467.6,388.2 L468.3,388.1 L469.0,388.1 L469.7,388.2 L470.4,388.4 L471.1,388.4 L471.8,388.3 L472.5,388.4 L473.2,388.3 L473.9,388.2 L474.6,388.2 L475.3,388.2 L476.0,388.3 L476.7,388.3 L477.4,388.4 L478.1,388.2 L478.8,388.4 L479.5,388.3 L480.2,388.4 L480.9,388.2 L481.6,388.4 L482.3,388.3 L483.0,388.4 L483.7,388.4 L484.4,388.4 L485.1,388.3 L485.8,388.2 L486.5,388.2 L487.2,388.3 L487.9,388.2 L488.6,388.3 L489.3,388.3 L490.0,388.4 L490.7,388.3 L491.4,388.2 L492.1,388.1 L492.8,388.3 L493.5,388.3 L494.2,388.3 L494.9,388.3 L495.7,388.3 L496.4,388.2 L497.1,388.1 L497.8,388.3 L498.5,388.2 L499.2,388.4 L499.9,388.3 L500.6,388.4 L501.3,388.2 L502.0,388.3 L502.7,388.3 L503.4,388.2 L504.1,388.3 L504.8,388.2 L505.5,388.2 L506.2,388.3 L506.9,388.2 L507.6,388.2 L508.3,388.3 L509.0,388.3 L509.7,388.2 L510.4,388.2 L511.1,388.2 L511.8,388.2 L512.5,388.3 L513.2,388.3 L513.9,388.4 L514.6,388.2 L515.3,388.3 L516.0,388.4 L516.7,388.3 L517.4,388.2 L518.1,388.2 L518.8,388.1 L519.5,388.2 L520.2,388.3 L520.9,388.2 L521.6,388.1 L522.3,388.2 L523.0,388.2" stroke="#1212ff"/>
<path d="M62.8,50.2 L63.5,50.2 L64.2,50.2 L65.0,50.2 L65.7,50.2 L66.4,50.2 L67.1,50.2 L67.9,50.2 L68.6,50.2 L69.3,50.2 L69.3,50.9 L69.3,51.6 L69.3,52.3 L69.3,53.0 L69.3,53.7 L69.3,54.4 L69.3,55.1 L69.3,55.8 L69.2,56.5 L69.2,57.2 L69.1,57.9 L69.0,58.6 L69.1,59.3 L69.2,60.0 L69.5,60.7 L69.4,61.4 L69.2,62.1 L69.2,62.8 L69.4,63.5 L69.4,64.2 L69.5,64.9 L69.7,65.6 L69.7,66.3 L69.4,67.0 L69.6,67.7 L69.5,68.4 L69.3,69.1 L69.2,69.8 L69.4,70.5 L69.3,71.2 L69.2,71.9 L69.2,72.6 L69.5,73.3 L69.4,74.0 L69.5,74.7 L69.3,75.5 L69.3,76.2 L69.3,76.9 L69.2,77.6 L69.4,78.3 L69.3,79.0 L69.2,79.7 L69.5,80.4 L69.5,81.1 L69.3,81.8 L69.2,82.5 L69.3,83.2 L69.4,83.9 L69.2,84.6 L69.3,85.3 L69.5,86.0 L69.5,86.7 L69.4,87.4 L69.4,88.1 L69.5,88.8 L69.5,89.5 L69.3,90.2 L69.5,90.9 L69.7,91.6 L69.7,92.3 L69.8,93.0 L69.6,93.7 L69.7,94.4 L69.5,95.1 L69.4,95.8 L69.5,96.5 L69.6,97.2 L69.4,97.9 L69.3,98.6 L69.2,99.3 L69.3,100.0 L69.3,100.8 L69.3,101.5 L69.6,102.2 L69.7,103.0 L69.9,103.8 L69.9,104.5 L70.0,105.2 L69.8,106.0 L70.1,106.7 L70.0,107.4 L70.1,108.2 L70.3,108.9 L70.6,109.6 L70.6,110.3 L70.8,111.1 L70.9,111.8 L70.7,112.5 L71.0,113.2 L70.9,114.0 L71.2,114.7 L71.2,115.4 L71.2,116.1 L71.5,116.9 L71.4,117.6 L71.5,118.3 L71.5,119.0 L71.7,119.8 L71.6,120.5 L71.7,121.2 L71.7,121.9 L72.0,122.7 L71.8,123.4 L72.0,124.1 L72.0,124.9 L72.1,125.6 L72.2,126.3 L72.4,127.1 L72.2,127.8 L72.2,128.5 L72.2,129.3 L72.6,130.0 L72.4,130.7 L72.4,131.5 L72.5,132.2 L72.7,132.9 L72.9,133.7 L72.7,134.4 L72.7,135.1 L72.7,135.9 L72.9,136.6 L73.0,137.3 L73.1,138.0 L73.4,138.8 L73.4,139.5 L73.6,140.2 L73.8,140.9 L73.6,141.7 L73.8,142.4 L73.8,143.1 L73.6,143.9 L73.9,144.6 L73.8,145.3 L73.7,146.0 L73.8,146.8 L73.9,147.5 L74.3,148.2 L74.4,148.9 L74.4,149.6 L74.4,150.4 L74.6,151.1 L74.8,151.8 L74.8,152.5 L74.8,153.2 L74.7,153.9 L74.8,154.6 L75.1,155.4 L75.2,156.1 L75.4,156.9 L75.5,157.7 L75.6,158.5 L75.7,159.0 L75.9,159.4 L76.0,160.4 L76.1,161.1 L76.2,161.6 L76.4,162.4 L76.5,163.0 L76.6,163.7 L76.7,164.4 L76.8,165.2 L76.8,166.0 L76.9,166.6 L77.0,167.5 L77.1,168.3 L77.2,168.9 L77.2,169.7 L77.3,170.6 L77.4,171.0 L77.5,171.8 L77.6,172.6 L77.7,173.4 L77.8,174.2 L77.8,174.7 L77.9,175.6 L78.0,176.4 L78.1,176.9 L78.1,177.6 L78.2,178.5 L78.2,179.0 L78.3,179.6 L78.4,180.6 L78.4,181.4 L78.5,181.9 L78.5,182.6 L78.6,183.2 L78.7,184.0 L78.7,184.8 L78.8,185.2 L78.8,185.8 L78.9,186.5 L79.0,187.2 L79.1,187.8 L79.1,188.4 L79.2,189.3 L79.3,190.0 L79.4,190.6 L79.4,191.5 L79.5,192.5 L79.6,193.2 L79.7,193.8 L79.7,194.6 L79.8,195.2 L79.9,195.8 L80.0,196.5 L80.1,197.0 L80.3,197.9 L80.4,198.5 L80.5,199.3 L80.6,200.2 L80.8,201.0 L80.9,201.8 L81.0,202.5 L81.1,203.2 L81.3,203.9 L81.4,204.7 L81.5,205.2 L81.7,206.0 L82.0,206.6 L82.2,207.2 L82.4,208.1 L82.6,208.8 L82.7,209.7 L82.9,210.5 L83.0,211.1 L83.2,211.6 L83.3,212.1 L83.5,212.9 L83.6,213.8 L83.8,214.4 L83.9,215.0 L84.0,215.6 L84.2,216.3 L84.3,217.2 L84.5,217.8 L84.6,218.5 L84.7,219.3 L84.8,220.2 L84.9,221.2 L85.1,221.6 L85.2,222.2 L85.3,223.2 L85.4,224.2 L85.5,224.6 L85.6,225.3 L85.7,226.1 L85.8,226.7 L85.9,227.5 L86.1,228.2 L86.2,228.9 L86.3,229.5 L86.4,230.1 L86.5,230.8 L86.6,231.5 L86.7,232.4 L86.8,233.3 L86.9,233.9 L87.0,234.8 L87.2,235.6 L87.3,236.2 L87.4,236.9 L87.5,237.5 L87.6,238.4 L87.7,239.1 L87.8,239.6 L87.9,240.2 L88.0,241.1 L88.1,241.8 L88.2,242.6 L88.3,243.2 L88.4,244.1 L88.6,244.9 L88.7,245.4 L88.8,246.2 L88.9,246.7 L89.0,247.6 L89.1,248.4 L89.2,249.2 L89.3,249.7 L89.5,250.2 L89.6,251.1 L89.7,251.8 L89.8,252.4 L90.0,253.0 L90.1,253.9 L90.2,254.4 L90.3,255.3 L90.5,255.9 L90.6,256.6 L90.7,257.3 L90.8,258.2 L90.9,259.1 L91.0,259.7 L91.2,260.6 L91.3,261.3 L91.4,262.0 L91.5,263.0 L91.6,263.8 L91.7,264.5 L91.7,265.4 L91.8,265.9 L91.9,266.5 L92.0,267.4 L92.0,268.0 L92.1,268.6 L92.2,269.2 L92.3,270.2 L92.4,271.1 L92.4,271.8 L92.5,272.7 L92.6,273.4 L92.7,273.9 L92.8,274.5 L92.9,275.4 L93.0,275.9 L93.1,276.7 L93.2,277.3 L93.3,277.9 L93.4,278.7 L93.5,279.4 L93.7,280.4 L93.8,281.3 L93.9,281.9 L94.0,282.5 L94.1,283.1 L94.2,283.9 L94.3,284.7 L94.4,285.4 L94.5,286.2 L94.5,287.0 L94.6,287.8 L94.7,288.3 L94.7,288.9 L94.8,289.7 L94.8,290.5 L94.9,291.1 L94.9,292.0 L95.0,292.7 L95.0,293.4 L95.0,294.2 L95.1,295.0 L95.2,295.9 L95.2,296.5 L95.2,297.2 L95.3,298.1 L95.4,299.0 L95.4,299.6 L95.5,300.1 L95.5,300.8 L95.6,301.6 L95.6,302.2 L95.7,302.8 L95.8,303.8 L95.8,304.7 L95.9,305.2 L96.0,305.9 L96.0,306.7 L96.1,307.3 L96.1,307.9 L96.2,308.8 L96.3,309.7 L96.3,310.4 L96.4,310.9 L96.4,311.6 L96.5,312.2 L96.6,313.3 L96.7,313.8 L96.8,314.6 L96.9,315.5 L97.0,316.1 L97.1,316.7 L97.4,317.3 L97.6,317.9 L97.9,318.8 L98.1,319.6 L98.4,320.1 L98.6,320.7 L98.9,321.6 L99.1,322.2 L99.4,322.8 L99.5,323.4 L99.7,324.1 L99.8,325.2 L99.9,325.7 L100.0,326.4 L100.2,327.4 L100.3,328.3 L100.5,329.1 L100.7,329.7 L100.8,330.5 L101.0,331.1 L101.2,331.6 L101.4,332.3 L101.6,333.1 L101.7,333.9 L101.9,334.3 L102.1,334.9 L102.3,335.9 L102.5,336.4 L102.6,337.3 L102.8,337.9 L103.0,338.5 L103.4,339.0 L103.9,339.6 L104.3,340.4 L104.7,340.7 L105.2,341.5 L105.6,341.9 L106.0,342.3 L106.5,343.0 L106.9,343.5 L107.3,343.9 L107.8,344.5 L108.2,345.3 L108.7,346.0 L109.2,346.5 L109.7,346.8 L110.2,347.5 L110.7,348.1 L111.2,348.9 L111.7,349.6 L112.2,349.9 L112.9,350.4 L113.5,350.8 L114.2,351.0 L114.9,351.2 L115.5,351.6 L116.2,351.9 L116.5,352.5 L116.8,353.0 L117.1,353.7 L117.4,354.6 L117.6,355.2 L117.9,355.9 L118.2,356.7 L118.5,357.4 L118.8,357.8 L119.3,358.4 L119.9,358.9 L120.4,359.5 L121.0,359.9 L121.5,360.3 L122.1,360.8 L122.6,361.0 L123.2,361.5 L123.7,361.8 L124.4,362.3 L125.1,362.3 L125.8,362.6 L126.5,362.9 L127.1,363.3 L127.8,363.5 L128.5,364.0 L129.2,364.4 L129.9,364.7 L130.7,364.7 L131.5,365.2 L132.2,365.5 L133.0,365.7 L133.8,366.0 L134.5,365.9 L135.2,366.2 L135.9,366.3 L136.6,366.4 L137.2,366.4 L137.9,366.7 L138.6,366.9 L139.3,367.1 L140.0,367.0 L140.7,367.1 L141.5,367.2 L142.2,367.2 L142.9,367.4 L143.6,367.5 L144.4,367.9 L145.1,368.0 L145.8,368.0 L146.5,368.1 L147.3,368.5 L148.0,368.6 L148.7,368.7 L149.4,368.8 L150.1,369.1 L150.8,369.3 L151.5,369.2 L152.2,369.3 L152.9,369.5 L153.6,369.5 L154.4,369.7 L155.1,369.8 L155.8,369.6 L156.5,369.9 L157.2,369.9 L157.9,369.7 L158.6,369.8 L159.3,370.1 L160.0,370.1 L160.7,370.1 L161.4,370.1 L162.1,370.4 L162.8,370.4 L163.5,370.3 L164.2,370.3 L164.9,370.3 L165.6,370.7 L166.4,370.8 L167.1,370.6 L167.8,370.9 L168.5,370.7 L169.2,370.8 L169.9,370.9 L170.6,371.0 L171.3,371.0 L172.0,370.9 L172.7,371.1 L173.4,371.3 L174.2,371.5 L174.9,371.4 L175.6,371.3 L176.3,371.6 L177.0,371.7 L177.8,371.6 L178.5,371.9 L179.2,372.1 L179.9,372.0 L180.6,372.0 L181.4,372.1 L182.1,372.3 L182.8,372.1 L183.5,372.1 L184.2,372.1 L185.0,372.4 L185.7,372.3 L186.4,372.4 L187.1,372.5 L187.8,372.7 L188.6,372.5 L189.3,372.9 L190.0,373.1 L190.7,373.0 L191.4,373.1 L192.1,372.9 L192.8,373.1 L193.5,373.0 L194.2,373.1 L194.9,373.2 L195.6,373.1 L196.3,373.2 L197.0,373.0 L197.7,372.8 L198.4,372.9 L199.1,373.2 L199.8,373.3 L200.5,373.4 L201.2,373.3 L201.9,373.5 L202.6,373.4 L203.3,373.1 L204.0,373.2 L204.7,373.4 L205.4,373.3 L206.1,373.3 L206.8,373.2 L207.5,373.1 L208.2,373.2 L208.9,373.3 L209.6,373.3 L210.4,373.1 L211.1,373.0 L211.8,373.1 L212.5,373.3 L213.2,373.5 L213.9,373.4 L214.6,373.3 L215.3,373.4 L216.0,373.3 L216.7,373.5 L217.4,373.7 L218.1,373.5 L218.8,373.6 L219.5,373.7 L220.2,373.8 L220.9,373.8 L221.6,373.9 L222.3,373.7 L223.0,373.9 L223.7,374.0 L224.4,373.7 L225.1,373.9 L225.8,373.9 L226.5,373.7 L227.2,373.5 L227.9,373.8 L228.6,373.9 L229.3,373.8 L230.0,373.8 L230.7,373.9 L231.4,374.0 L232.1,373.9 L232.8,374.0 L233.5,373.9 L234.2,373.9 L234.9,373.8 L235.6,373.9 L236.3,374.0 L237.0,373.9 L237.7,373.9 L238.4,373.9 L239.1,373.9 L239.8,373.9 L240.5,373.9 L241.3,374.0 L242.0,373.9 L242.7,374.0 L243.4,374.0 L244.1,374.2 L244.8,374.1 L245.5,374.2 L246.2,374.2 L246.9,374.1 L247.6,374.1 L248.3,374.1 L249.0,374.0 L249.7,374.0 L250.4,374.1 L251.1,374.3 L251.8,374.2 L252.5,374.2 L253.2,374.2 L253.9,374.2 L254.6,374.2 L255.3,374.2 L256.0,374.2 L256.7,374.3 L257.4,374.3 L258.1,374.2 L258.8,374.3 L259.5,374.4 L260.2,374.3 L260.9,374.4 L261.6,374.4 L262.3,374.4 L263.0,374.4 L263.8,374.3 L264.5,374.4 L265.2,374.4 L265.9,374.5 L266.6,374.5 L267.3,374.4 L268.0,374.4 L268.7,374.5 L269.4,374.5 L270.1,374.5 L270.8,374.5 L271.5,374.5 L272.2,374.6 L272.9,374.6 L273.6,374.5 L274.3,374.4 L274.3,373.7 L274.3,373.1 L274.3,372.5 L274.4,371.6 L274.4,370.9 L274.4,370.3 L274.4,369.6 L274.4,368.9 L274.4,368.3 L274.4,367.5 L274.4,366.8 L274.5,366.2 L274.5,365.5 L274.5,364.7 L274.5,364.0 L274.5,363.3 L274.5,362.6 L274.5,362.0 L274.5,361.2 L274.6,360.5 L274.6,359.8 L274.6,359.0 L274.6,358.5 L274.6,357.7 L274.6,357.0 L274.6,356.2 L274.6,355.6 L274.7,354.8 L274.7,354.2 L274.7,353.4 L274.7,352.7 L274.7,353.3 L274.7,354.2 L274.8,354.9 L274.8,355.6 L274.8,356.2 L274.8,357.0 L274.9,357.8 L274.9,358.6 L274.9,359.4 L274.9,360.2 L275.0,360.9 L275.0,361.6 L275.0,362.2 L275.0,363.0 L275.1,363.7 L275.1,364.3 L275.1,365.1 L275.1,365.9 L275.2,366.6 L275.2,367.2 L275.2,368.0 L275.3,368.8 L275.4,369.5 L275.5,370.3 L275.7,370.9 L275.8,371.5 L275.9,372.2 L276.2,372.8 L276.6,373.5 L277.3,373.8 L278.0,373.9 L278.6,374.0 L279.3,374.2 L280.0,374.4 L280.7,374.5 L281.4,374.6 L282.1,374.5 L282.8,374.6 L283.5,374.6 L284.2,374.5 L284.9,374.4 L285.6,374.4 L286.3,374.5 L287.0,374.6 L287.7,374.6 L288.4,374.5 L289.1,374.4 L289.8,374.4 L290.5,374.4 L291.2,374.5 L291.9,374.4 L292.6,374.4 L293.3,374.5 L294.0,374.4 L294.7,374.4 L295.4,374.5 L296.1,374.5 L296.8,374.5 L297.5,374.6 L298.2,374.6 L298.9,374.5 L299.6,374.5 L300.3,374.6 L301.0,374.6 L301.7,374.7 L302.4,374.6 L303.1,374.5 L303.8,374.4 L304.5,374.4 L305.2,374.5 L305.9,374.4 L306.6,374.5 L307.3,374.5 L308.0,374.5 L308.7,374.4 L309.4,374.5 L310.1,374.5 L310.8,374.5 L311.5,374.5 L312.2,374.5 L312.9,374.5 L313.6,374.6 L314.3,374.6 L315.0,374.7 L315.7,374.6 L316.4,374.5 L317.1,374.5 L317.8,374.4 L318.5,374.5 L319.2,374.6 L319.9,374.6 L320.6,374.6 L321.3,374.7 L322.0,374.6 L322.7,374.5 L323.4,374.6 L324.1,374.5 L324.8,374.5 L325.5,374.4 L326.2,374.5 L326.9,374.5 L327.6,374.4 L328.3,374.5 L329.0,374.4 L329.7,374.5 L330.4,374.6 L331.1,374.4 L331.8,374.5 L332.5,374.5 L333.2,374.6 L333.9,374.5 L334.6,374.5 L335.3,374.6 L336.0,374.4 L336.7,374.5 L337.4,374.4 L338.1,374.4 L338.8,374.3 L339.5,374.4 L340.2,374.4 L340.9,374.5 L341.6,374.4 L342.3,374.5 L343.0,374.5 L343.7,374.4 L344.4,374.4 L345.1,374.5 L345.8,374.4 L346.5,374.4 L347.2,374.4 L347.9,374.4 L348.6,374.5 L349.3,374.6 L350.0,374.6 L350.7,374.5 L351.4,374.5 L352.1,374.6 L352.8,374.6 L353.5,374.5 L354.2,374.6 L354.9,374.5 L355.6,374.6 L356.3,374.5 L357.0,374.4 L357.7,374.5 L358.4,374.4 L359.1,374.4 L359.8,374.3 L360.5,374.5 L361.2,374.5 L361.9,374.5 L362.6,374.4 L363.3,374.4 L364.0,374.4 L364.7,374.4 L365.4,374.5 L366.1,374.3 L366.8,374.4 L367.5,374.3 L368.2,374.4 L368.9,374.5 L369.6,374.4 L370.3,374.4 L371.0,374.4 L371.7,374.5 L372.4,374.5 L373.1,374.4 L373.8,374.5 L374.5,374.4 L375.2,374.3 L375.9,374.4 L376.6,374.3 L377.3,374.3 L378.0,374.3 L378.7,374.3 L379.4,374.3 L380.1,374.4 L380.8,374.4 L381.5,374.5 L382.2,374.4 L382.9,374.5 L383.6,374.4 L384.3,374.5 L385.0,374.5 L385.7,374.6 L386.4,374.6 L387.1,374.5 L387.8,374.5 L388.5,374.5 L389.2,374.5 L389.9,374.4 L390.6,374.5 L391.3,374.5 L392.0,374.5 L392.7,374.5 L393.4,374.4 L394.1,374.4 L394.8,374.5 L395.5,374.5 L396.2,374.6 L396.9,374.4 L397.6,374.5 L397.7,373.7 L397.7,372.9 L397.8,372.1 L397.9,371.3 L397.9,370.6 L398.0,369.9 L398.0,369.2 L398.1,368.4 L398.2,367.7 L398.2,367.1 L398.3,366.3 L398.9,365.9 L399.0,366.8 L399.1,367.5 L399.2,368.3 L399.4,369.1 L399.5,369.7 L399.6,370.5 L399.7,371.3 L400.1,371.9 L400.6,372.5 L401.1,373.1 L401.5,373.6 L402.3,373.7 L403.2,373.9 L404.0,374.1 L404.7,374.1 L405.4,374.2 L406.1,374.3 L406.8,374.3 L407.5,374.2 L408.2,374.3 L408.9,374.3 L409.6,374.3 L410.3,374.3 L411.0,374.3 L411.7,374.2 L412.4,374.2 L413.1,374.2 L413.8,374.3 L414.5,374.2 L415.2,374.3 L415.9,374.2 L416.6,374.1 L417.3,374.1 L418.0,374.1 L418.7,374.1 L419.4,374.1 L420.1,374.2 L420.8,374.2 L421.5,374.2 L422.2,374.3 L422.9,374.4 L423.6,374.3 L424.3,374.3 L425.0,374.2 L425.7,374.1 L426.4,374.1 L427.1,374.2 L427.8,374.2 L428.5,374.2 L429.2,374.1 L429.9,374.1 L430.6,374.2 L431.3,374.2 L432.0,374.3 L432.7,374.1 L433.4,374.1 L434.1,374.0 L434.8,374.2 L435.5,374.1 L436.2,374.2 L436.9,374.1 L437.6,374.2 L438.3,374.2 L439.0,374.2 L439.7,374.3 L440.4,374.2 L441.1,374.2 L441.8,374.1 L442.5,374.2 L443.2,374.3 L443.9,374.2 L444.6,374.2 L445.3,374.1 L446.0,374.1 L446.7,374.1 L447.4,374.1 L448.1,374.3 L448.8,374.3 L449.5,374.4 L450.2,374.3 L450.9,374.3 L451.6,374.2 L452.3,374.2 L453.0,374.2 L453.7,374.2 L454.4,374.2 L455.1,374.2 L455.8,374.1 L456.5,374.0 L457.2,374.0 L457.9,374.1 L458.6,374.2 L459.3,374.1 L460.0,374.1 L460.7,374.1 L461.4,374.2 L462.1,374.1 L462.8,374.2 L463.5,374.0 L464.2,374.0 L464.9,374.0 L465.6,374.0 L466.3,374.1 L467.0,374.1 L467.7,374.2 L468.4,374.1 L469.1,374.0 L469.8,374.1 L470.5,374.1 L471.2,374.1 L471.9,374.2 L472.6,374.1 L473.3,374.1 L474.0,374.2 L474.7,374.2 L475.4,374.2 L476.1,374.2 L476.8,374.2 L477.5,374.1 L478.2,374.0 L478.9,374.0 L479.6,374.0 L480.3,374.0 L481.0,374.1 L481.7,374.1 L482.4,374.1 L483.1,374.1 L483.8,374.2 L484.5,374.1 L485.2,374.0 L485.9,374.0 L486.6,374.0 L487.3,374.2 L488.0,374.2 L488.7,374.2 L489.4,374.1 L490.1,374.0 L490.8,374.0 L491.5,374.1 L492.2,374.1 L492.9,374.1 L493.6,374.1 L494.3,374.0 L495.0,374.1 L495.7,374.0 L496.4,374.0 L497.1,374.1 L497.8,374.2 L498.5,374.1 L499.2,374.1 L499.9,374.1 L500.6,374.1 L501.3,374.1 L502.0,374.0 L502.7,374.2 L503.4,374.0 L504.1,374.0 L504.8,374.0 L505.5,374.0 L506.2,373.9 L506.9,374.1 L507.6,374.2 L508.3,374.1 L509.0,374.1 L509.7,374.1 L510.4,374.1 L511.1,374.1 L511.8,374.1 L512.5,374.1 L513.2,374.0 L513.9,374.0 L514.6,374.0 L515.3,374.2 L516.0,374.2 L516.7,374.1 L517.4,374.1 L518.1,374.1 L518.8,374.0 L519.5,374.1 L520.2,374.1 L520.9,374.2 L521.6,374.1 L522.3,374.2 L523.0,374.2" stroke="#14f514"/>
<path d="M48.2,50.2 L48.9,50.2 L49.6,50.2 L50.4,50.2 L51.1,50.2 L51.8,50.2 L52.5,50.2 L53.3,50.2 L54.0,50.2 L54.7,50.2 L55.4,50.2 L56.2,50.2 L56.9,50.2 L57.6,50.2 L58.3,50.2 L59.1,50.2 L59.8,50.2 L60.5,50.2 L61.2,50.2 L62.0,50.2 L62.7,50.2 L63.4,50.2 L63.5,50.9 L63.6,51.7 L63.7,52.4 L63.9,53.1 L64.0,53.9 L64.1,54.6 L64.2,55.3 L64.3,56.0 L64.3,56.8 L64.5,57.5 L64.5,58.2 L64.7,59.0 L65.0,59.7 L65.1,60.4 L65.5,61.1 L65.3,61.8 L65.6,62.5 L65.9,63.2 L65.8,63.9 L65.9,64.6 L65.9,65.3 L66.2,66.0 L66.5,66.7 L66.6,67.4 L66.9,68.1 L67.0,68.8 L67.2,69.5 L67.2,70.2 L67.5,70.9 L67.5,71.6 L67.3,72.3 L67.2,73.0 L67.5,73.7 L67.8,74.4 L67.8,75.2 L67.7,75.9 L67.9,76.6 L68.0,77.3 L67.8,78.0 L67.9,78.7 L68.0,79.4 L67.8,80.1 L67.7,80.8 L67.8,81.5 L68.1,82.2 L68.3,83.0 L68.1,83.7 L68.3,84.4 L68.3,85.1 L68.3,85.8 L68.3,86.5 L68.4,87.2 L68.3,87.9 L68.4,88.6 L68.3,89.3 L68.1,90.1 L68.1,90.8 L68.1,91.5 L68.0,92.2 L68.0,92.9 L68.1,93.6 L68.2,94.3 L68.0,95.0 L68.0,95.7 L68.1,96.4 L68.1,97.2 L68.1,97.9 L68.2,98.6 L68.1,99.3 L68.2,100.0 L68.1,100.7 L68.3,101.4 L68.4,102.1 L68.4,102.9 L68.4,103.6 L68.2,104.3 L68.5,105.0 L68.4,105.7 L68.3,106.4 L68.3,107.1 L68.3,107.9 L68.4,108.6 L68.5,109.3 L68.5,110.0 L68.6,110.7 L68.4,111.4 L68.4,112.1 L68.4,112.8 L68.3,113.5 L68.3,114.2 L68.5,114.9 L68.6,115.6 L68.5,116.3 L68.4,117.0 L68.6,117.7 L68.6,118.4 L68.7,119.1 L68.7,119.8 L68.7,120.5 L68.6,121.2 L68.5,121.9 L68.6,122.7 L68.6,123.4 L69.0,124.1 L69.1,124.9 L69.2,125.6 L69.5,126.3 L69.6,127.1 L69.4,127.8 L69.4,128.5 L69.4,129.3 L69.7,130.0 L69.9,130.7 L69.9,131.5 L69.9,132.2 L69.9,132.9 L70.0,133.7 L70.3,134.4 L70.5,135.1 L70.6,135.9 L70.8,136.6 L70.7,137.3 L70.7,138.0 L70.7,138.8 L71.0,139.5 L70.9,140.2 L70.9,140.9 L71.0,141.7 L71.3,142.4 L71.5,143.1 L71.5,143.9 L71.7,144.6 L71.9,145.3 L71.8,146.0 L71.7,146.8 L72.0,147.5 L72.0,148.2 L72.0,148.9 L72.3,149.6 L72.4,150.4 L72.4,151.1 L72.6,151.8 L72.6,152.5 L72.6,153.2 L72.8,153.9 L73.0,154.6 L73.0,155.3 L73.2,156.0 L73.6,156.7 L73.7,157.4 L73.9,158.2 L74.1,158.9 L74.1,159.6 L74.1,160.3 L74.4,161.0 L74.6,161.7 L74.7,162.4 L74.7,163.1 L75.0,164.0 L75.1,164.9 L75.2,165.3 L75.3,166.1 L75.5,166.8 L75.6,167.4 L75.7,167.9 L75.8,168.6 L75.9,169.6 L76.0,170.4 L76.1,171.1 L76.2,171.6 L76.3,172.3 L76.5,173.0 L76.6,173.8 L76.7,174.5 L76.8,175.6 L76.9,176.0 L76.9,177.1 L77.0,177.6 L77.0,178.5 L77.1,179.0 L77.1,179.7 L77.2,180.3 L77.2,180.8 L77.3,181.8 L77.3,182.7 L77.4,183.2 L77.4,184.0 L77.5,184.7 L77.5,185.6 L77.6,185.9 L77.6,186.6 L77.7,187.2 L77.8,188.1 L77.8,188.9 L77.9,189.8 L78.0,190.4 L78.1,191.0 L78.1,191.9 L78.2,192.3 L78.3,192.9 L78.4,193.8 L78.4,194.5 L78.5,195.5 L78.6,195.8 L78.7,196.5 L78.9,197.1 L79.0,197.6 L79.2,198.3 L79.3,198.9 L79.4,199.8 L79.6,200.6 L79.7,201.4 L79.8,202.1 L80.0,203.0 L80.1,203.7 L80.3,204.7 L80.4,205.1 L80.6,205.8 L80.8,206.5 L81.1,207.2 L81.3,208.2 L81.4,208.7 L81.6,209.6 L81.7,210.2 L81.8,210.8 L82.0,211.6 L82.1,212.4 L82.2,213.0 L82.4,213.5 L82.5,214.6 L82.7,215.2 L82.8,215.7 L82.9,216.6 L83.1,217.4 L83.2,218.0 L83.3,218.7 L83.3,219.7 L83.4,220.3 L83.5,220.9 L83.6,222.0 L83.6,222.5 L83.7,223.2 L83.8,223.7 L83.8,224.6 L83.9,225.5 L84.0,226.1 L84.1,226.8 L84.1,227.4 L84.2,228.3 L84.3,229.0 L84.4,229.9 L84.4,230.5 L84.5,231.4 L84.6,231.7 L84.6,232.4 L84.7,233.4 L84.7,234.2 L84.8,235.0 L84.8,235.6 L84.9,236.2 L84.9,236.8 L85.0,237.3 L85.0,238.2 L85.1,239.1 L85.2,239.6 L85.2,240.5 L85.3,241.0 L85.3,241.8 L85.4,242.4 L85.4,243.2 L85.5,243.8 L85.5,244.7 L85.6,245.2 L85.6,246.0 L85.7,246.8 L85.7,247.4 L85.8,248.1 L85.9,249.0 L86.0,249.7 L86.0,250.5 L86.1,251.3 L86.2,252.0 L86.3,252.5 L86.3,253.2 L86.4,254.1 L86.5,254.8 L86.6,255.6 L86.6,256.1 L86.7,256.8 L86.8,257.8 L86.9,258.6 L86.9,259.4 L87.0,259.8 L87.1,260.7 L87.2,261.2 L87.2,262.3 L87.3,263.3 L87.5,264.0 L87.7,264.4 L87.8,265.3 L88.0,265.7 L88.2,266.6 L88.4,267.2 L88.6,267.6 L88.8,268.6 L88.9,269.2 L89.1,270.0 L89.3,270.7 L89.6,271.4 L89.8,272.3 L90.1,272.7 L90.4,273.7 L90.7,274.3 L90.9,274.7 L91.2,275.5 L91.2,276.0 L91.3,276.6 L91.3,277.6 L91.4,278.2 L91.4,278.8 L91.5,279.5 L91.5,280.3 L91.6,281.3 L91.6,282.3 L91.7,283.1 L91.7,283.9 L91.8,284.4 L91.8,285.1 L91.9,285.6 L91.9,286.5 L91.9,287.3 L92.0,288.0 L92.0,288.5 L92.1,288.9 L92.1,290.0 L92.1,290.7 L92.2,291.5 L92.2,292.4 L92.2,292.8 L92.3,293.6 L92.3,294.3 L92.4,295.2 L92.4,295.8 L92.4,296.3 L92.5,297.4 L92.5,297.9 L92.6,298.8 L92.6,299.7 L92.7,300.1 L92.8,301.0 L92.9,301.6 L93.0,302.2 L93.1,302.8 L93.2,303.9 L93.3,304.5 L93.4,305.2 L93.5,306.0 L93.7,306.4 L93.8,307.4 L93.9,308.3 L94.0,309.2 L94.1,309.7 L94.2,310.2 L94.3,310.9 L94.4,311.8 L94.5,312.6 L94.6,313.2 L94.8,313.9 L94.9,314.4 L95.0,315.4 L95.2,316.0 L95.3,316.7 L95.5,317.5 L95.6,317.9 L95.9,318.8 L96.1,319.3 L96.4,320.2 L96.7,320.6 L97.0,321.2 L97.2,322.0 L97.5,322.7 L97.8,323.3 L98.1,324.0 L98.3,324.6 L98.6,325.3 L98.9,325.7 L99.2,326.7 L99.4,327.3 L99.7,328.2 L99.9,328.9 L100.1,329.7 L100.4,330.4 L100.6,330.9 L100.8,331.8 L101.0,332.4 L101.3,333.4 L101.5,334.2 L101.7,335.0 L102.3,335.5 L102.8,335.8 L103.4,336.4 L104.0,337.0 L104.6,337.2 L105.2,337.4 L105.7,337.9 L106.3,338.5 L106.9,338.9 L107.5,339.3 L108.0,340.2 L108.6,340.6 L109.2,340.9 L109.8,341.3 L110.3,342.0 L110.9,342.4 L111.5,343.0 L112.1,343.6 L112.6,344.1 L113.2,344.6 L113.8,345.3 L114.3,345.4 L114.9,346.2 L115.5,346.5 L116.0,346.7 L116.6,347.5 L117.2,348.1 L117.7,348.5 L118.3,348.9 L118.9,349.4 L119.6,349.5 L120.2,350.0 L120.9,350.1 L121.5,350.4 L122.2,350.8 L122.8,351.0 L123.4,351.3 L124.1,351.4 L124.7,351.8 L125.4,352.3 L126.0,352.3 L126.7,352.7 L127.4,353.0 L128.1,353.0 L128.8,353.5 L129.5,353.9 L130.3,353.7 L131.0,353.8 L131.7,353.9 L132.4,354.1 L133.1,354.2 L133.8,354.6 L134.5,354.7 L135.2,354.9 L135.9,355.1 L136.6,355.3 L137.4,355.7 L138.1,356.0 L138.8,355.8 L139.5,355.9 L140.2,355.8 L140.9,356.0 L141.6,356.1 L142.3,356.6 L143.0,356.9 L143.7,357.3 L144.4,357.2 L145.2,357.1 L145.9,357.4 L146.6,357.5 L147.3,358.0 L148.0,358.0 L148.7,357.9 L149.4,357.8 L150.1,358.2 L150.8,358.3 L151.5,358.3 L152.2,358.3 L152.9,358.6 L153.6,358.8 L154.4,358.7 L155.1,358.6 L155.8,358.6 L156.5,359.0 L157.2,358.9 L157.9,359.1 L158.6,359.2 L159.3,359.2 L160.0,359.3 L160.7,359.2 L161.4,359.3 L162.1,359.6 L162.8,359.4 L163.5,359.4 L164.2,359.8 L164.9,360.1 L165.6,359.7 L166.4,359.9 L167.1,360.1 L167.8,360.3 L168.5,360.3 L169.2,360.1 L169.9,360.1 L170.6,360.4 L171.3,360.6 L172.0,360.4 L172.7,360.6 L173.4,360.7 L174.2,360.8 L174.9,360.5 L175.6,360.6 L176.3,360.6 L177.0,360.7 L177.8,360.7 L178.5,360.6 L179.2,360.8 L179.9,360.8 L180.6,361.0 L181.4,360.9 L182.1,361.0 L182.8,361.3 L183.5,361.0 L184.2,361.2 L185.0,361.0 L185.7,361.4 L186.4,361.1 L187.1,361.3 L187.8,361.3 L188.6,361.2 L189.3,361.3 L190.0,361.4 L190.7,361.4 L191.4,361.2 L192.1,361.4 L192.8,361.3 L193.5,361.7 L194.2,361.6 L194.9,361.5 L195.6,361.4 L196.3,361.7 L197.1,361.6 L197.8,361.7 L198.5,361.8 L199.2,361.7 L199.9,361.8 L200.6,361.6 L201.3,361.4 L202.0,361.2 L202.7,361.4 L203.4,361.7 L204.1,361.5 L204.8,361.5 L205.5,361.7 L206.2,361.6 L206.9,361.4 L207.6,361.6 L208.3,361.6 L209.0,361.9 L209.7,362.0 L210.4,361.8 L211.2,361.8 L211.9,361.7 L212.6,361.5 L213.3,361.6 L214.0,361.9 L214.7,361.7 L215.4,361.8 L216.1,361.9 L216.8,361.6 L217.5,361.9 L218.2,361.7 L218.9,361.6 L219.6,361.8 L220.3,361.6 L221.0,361.6 L221.7,361.5 L222.4,361.6 L223.1,361.4 L223.8,361.4 L224.5,361.4 L225.3,361.4 L226.0,361.4 L226.7,361.4 L227.4,361.6 L228.1,361.5 L228.8,361.9 L229.5,361.9 L230.2,361.8 L230.9,361.7 L231.6,362.0 L232.3,361.8 L233.0,362.0 L233.7,361.8 L234.4,362.1 L235.1,362.0 L235.8,362.0 L236.5,362.2 L237.2,361.9 L237.9,361.8 L238.6,362.0 L239.4,362.0 L240.1,362.1 L240.8,362.0 L241.5,362.0 L242.2,361.9 L242.9,361.9 L243.6,361.9 L244.3,362.0 L245.0,362.0 L245.7,361.9 L246.4,362.1 L247.1,361.9 L247.8,362.1 L248.6,362.1 L249.3,362.0 L250.0,361.8 L250.1,361.1 L250.2,360.3 L250.2,359.6 L250.3,358.7 L250.6,359.6 L250.8,360.7 L251.4,361.1 L252.0,361.8 L253.0,362.2 L254.0,362.6 L254.7,362.7 L255.4,362.4 L256.1,362.5 L256.8,362.4 L257.5,362.2 L258.2,362.4 L259.0,362.4 L259.7,362.5 L260.4,362.4 L261.1,362.2 L261.8,362.4 L262.5,362.2 L263.2,362.1 L263.9,362.2 L264.6,362.1 L265.3,362.2 L266.0,362.3 L266.7,362.1 L267.4,362.3 L268.2,362.1 L268.9,362.2 L269.6,362.3 L270.3,362.4 L271.0,362.1 L271.7,362.1 L272.4,362.4 L273.1,362.3 L273.8,362.3 L274.5,362.3 L275.2,362.4 L275.9,362.5 L276.6,362.5 L277.4,362.4 L278.1,362.4 L278.8,362.4 L279.5,362.2 L280.2,362.5 L280.9,362.7 L281.6,362.7 L282.3,362.8 L283.0,362.6 L283.7,362.7 L284.4,362.5 L285.1,362.5 L285.8,362.6 L286.6,362.7 L287.3,362.8 L288.0,362.8 L288.7,362.5 L289.4,362.6 L290.1,362.5 L290.8,362.4 L291.5,362.4 L292.2,362.5 L292.9,362.7 L293.6,362.7 L294.3,362.7 L295.0,362.5 L295.8,362.3 L296.5,362.4 L297.2,362.3 L297.9,362.3 L298.6,362.2 L299.3,362.2 L300.0,362.4 L300.7,362.3 L301.4,362.6 L302.1,362.5 L302.8,362.6 L303.5,362.5 L304.2,362.4 L304.9,362.4 L305.6,362.2 L306.3,362.3 L307.0,362.4 L307.7,362.2 L308.4,362.5 L309.1,362.5 L309.8,362.3 L310.5,362.6 L311.2,362.5 L311.9,362.4 L312.6,362.3 L313.3,362.2 L314.0,362.5 L314.7,362.6 L315.4,362.6 L316.1,362.5 L316.8,362.4 L317.5,362.7 L318.2,362.6 L318.9,362.9 L319.6,362.9 L320.3,362.7 L321.0,362.8 L321.7,362.5 L322.5,362.7 L323.2,362.8 L323.9,362.8 L324.6,362.8 L325.3,362.9 L326.0,362.7 L326.7,362.7 L327.4,362.6 L328.1,362.6 L328.8,362.5 L329.5,362.7 L330.2,362.7 L330.9,362.8 L331.6,362.9 L332.3,362.9 L333.0,363.0 L333.7,363.0 L334.4,362.9 L335.1,362.8 L335.8,363.0 L336.5,362.8 L337.2,362.6 L337.9,362.6 L338.6,362.8 L339.3,363.0 L340.0,363.0 L340.7,363.0 L341.4,363.1 L342.1,363.1 L342.8,363.0 L343.5,362.9 L344.2,363.0 L344.2,362.1 L344.2,361.2 L344.2,360.6 L344.2,360.1 L344.2,359.2 L344.2,358.6 L344.2,358.1 L344.3,357.1 L344.3,356.3 L344.3,355.7 L344.3,354.9 L344.3,354.5 L344.3,354.0 L344.3,353.1 L344.3,352.5 L344.3,351.8 L344.3,350.8 L344.3,350.4 L344.3,349.4 L344.3,348.5 L344.4,347.9 L344.4,347.0 L344.4,346.5 L344.4,345.8 L344.4,345.4 L344.4,344.6 L344.4,344.0 L344.4,343.4 L344.4,342.6 L344.4,341.7 L344.4,340.9 L344.4,340.3 L344.4,339.5 L344.4,338.9 L344.4,338.2 L344.5,337.5 L344.5,336.8 L344.5,336.4 L344.5,335.4 L344.5,334.6 L344.5,333.7 L344.5,333.0 L344.5,332.2 L344.5,331.6 L344.5,331.2 L344.5,330.6 L344.5,330.1 L344.5,329.4 L344.6,328.6 L344.6,329.3 L344.6,329.7 L344.6,330.4 L344.6,331.1 L344.6,331.9 L344.6,332.4 L344.6,333.2 L344.6,333.9 L344.6,334.7 L344.6,335.4 L344.6,336.0 L344.7,336.9 L344.7,337.7 L344.7,338.4 L344.7,338.9 L344.7,339.7 L344.7,340.6 L344.7,341.5 L344.7,342.2 L344.7,342.6 L344.7,343.5 L344.8,344.2 L344.8,344.7 L344.8,345.6 L344.8,346.4 L344.8,347.2 L344.8,347.6 L344.8,348.3 L344.8,349.0 L344.8,349.6 L344.8,350.4 L344.8,351.2 L344.9,351.8 L344.9,352.5 L344.9,353.4 L344.9,354.1 L344.9,354.9 L344.9,355.5 L344.9,356.4 L344.9,356.8 L344.9,357.4 L344.9,358.2 L344.9,359.0 L344.9,359.9 L345.5,360.4 L346.0,360.9 L346.5,361.4 L347.3,361.5 L348.1,361.7 L348.9,362.0 L349.6,361.8 L350.4,361.8 L351.2,362.2 L352.0,362.1 L352.7,362.3 L353.5,362.1 L354.2,362.3 L354.9,362.5 L355.6,362.4 L356.4,362.4 L357.1,362.3 L357.8,362.6 L358.5,362.6 L359.3,362.7 L360.0,362.7 L360.7,362.7 L361.4,362.9 L362.1,363.0 L362.8,363.1 L363.5,362.8 L364.2,362.8 L364.9,362.7 L365.6,362.6 L366.3,362.8 L367.0,362.6 L367.7,362.7 L368.4,362.8 L369.1,363.0 L369.8,362.7 L370.5,362.6 L371.2,362.6 L371.9,362.9 L372.6,362.7 L373.3,362.8 L374.0,362.7 L374.7,362.8 L375.4,362.9 L376.1,362.7 L376.8,362.6 L377.5,362.5 L378.2,362.4 L378.9,362.5 L379.6,362.7 L380.3,362.7 L381.0,362.6 L381.7,362.8 L382.4,362.8 L383.1,362.6 L383.8,362.8 L384.5,362.9 L385.2,362.7 L385.9,362.9 L386.6,363.0 L387.3,362.8 L388.0,362.5 L388.7,362.8 L389.4,362.9 L390.1,362.7 L390.8,362.8 L391.5,362.9 L392.2,362.9 L392.9,363.0 L393.6,363.1 L394.3,362.9 L395.0,363.0 L395.7,363.1 L396.4,362.9 L397.2,362.9 L397.9,362.9 L398.6,363.0 L399.3,362.9 L400.0,362.8 L400.7,362.6 L401.4,362.7 L402.1,362.6 L402.8,362.8 L403.5,363.0 L404.2,362.8 L404.9,362.9 L405.6,362.9 L406.3,362.7 L407.0,362.8 L407.7,362.9 L408.4,362.8 L409.1,362.6 L409.8,362.6 L410.5,362.8 L411.2,362.8 L411.9,362.9 L412.6,362.7 L413.3,362.5 L414.0,362.6 L414.7,362.8 L415.4,362.7 L416.1,362.5 L416.8,362.7 L417.5,362.6 L418.2,362.7 L418.9,362.6 L419.6,362.5 L420.3,362.7 L421.0,362.9 L421.7,362.8 L422.4,362.8 L423.1,362.6 L423.8,362.6 L424.5,362.5 L425.2,362.8 L425.9,362.9 L426.6,363.0 L427.3,362.9 L428.0,363.0 L428.7,362.7 L429.4,362.7 L430.1,362.6 L430.8,362.6 L431.5,362.8 L432.2,362.7 L432.9,362.6 L433.0,361.9 L433.0,361.4 L433.1,360.8 L433.1,360.0 L433.2,359.2 L433.2,358.7 L433.3,358.1 L433.3,357.3 L433.4,356.5 L433.8,357.4 L434.1,358.0 L434.5,358.7 L435.1,359.2 L435.7,359.9 L436.3,360.6 L437.0,360.8 L437.8,361.1 L438.5,361.7 L439.3,361.9 L440.0,362.1 L440.8,362.3 L441.5,362.5 L442.2,362.5 L443.0,362.3 L443.8,362.5 L444.5,362.7 L445.2,363.0 L446.0,363.0 L446.7,362.9 L447.4,362.8 L448.1,362.7 L448.8,362.8 L449.5,362.8 L450.2,363.0 L450.9,363.1 L451.6,363.2 L452.4,363.1 L453.1,363.2 L453.8,362.9 L454.5,363.1 L455.2,363.1 L455.9,363.2 L456.6,363.0 L457.3,363.2 L458.0,362.9 L458.7,363.0 L459.4,363.1 L460.1,363.0 L460.8,363.1 L461.5,362.9 L462.2,363.0 L462.9,363.0 L463.6,362.9 L464.4,362.8 L465.1,363.0 L465.8,363.1 L466.5,362.9 L467.2,363.1 L467.9,362.9 L468.6,362.9 L469.3,362.9 L470.0,363.0 L470.7,363.2 L471.4,363.3 L472.1,363.2 L472.8,363.1 L473.5,362.9 L474.3,362.7 L475.0,362.8 L475.7,362.9 L476.4,362.9 L477.1,363.2 L477.8,363.1 L478.5,363.0 L479.2,362.9 L479.9,362.8 L480.6,363.1 L481.3,363.1 L482.1,363.1 L482.8,363.0 L483.5,362.9 L484.2,362.9 L484.9,362.9 L485.6,362.9 L486.3,363.2 L487.0,363.1 L487.7,362.9 L488.4,362.8 L489.1,362.7 L489.9,362.7 L490.6,363.0 L491.3,363.2 L492.0,363.0 L492.7,363.1 L493.4,363.0 L494.1,363.0 L494.8,363.0 L495.5,362.8 L496.2,362.7 L497.0,362.9 L497.7,363.0 L498.4,363.0 L499.1,363.2 L499.8,363.2 L500.5,363.1 L501.2,362.8 L501.9,362.9 L502.6,363.0 L503.3,362.9 L504.0,362.7 L504.8,362.8 L505.5,362.7 L506.2,362.9 L506.9,363.0 L507.6,362.9 L508.3,362.9 L508.3,362.1 L508.3,361.3 L508.4,360.6 L508.4,360.1 L508.4,359.4 L508.4,358.8 L508.4,358.0 L508.5,357.4 L508.5,356.7 L508.5,356.0 L508.5,355.1 L508.5,354.4 L508.6,353.6 L508.6,353.1 L508.6,352.4 L508.6,351.6 L508.6,350.9 L508.7,351.4 L508.8,352.1 L508.8,352.7 L508.9,353.7 L509.0,354.2 L509.0,354.9 L509.1,355.9 L509.1,356.7 L509.2,357.4 L509.9,357.9 L510.5,358.5 L511.1,359.0 L511.8,359.2 L512.4,359.7 L513.0,360.0 L513.7,360.3 L514.3,360.5 L515.0,360.9 L515.7,361.2 L516.3,361.2 L517.0,361.6 L517.8,361.4 L518.5,361.7 L519.2,361.5 L520.0,361.6 L520.8,361.7 L521.5,362.0 L522.2,362.0 L523.0,361.9" stroke="#fa1414"/>
</g>
<g font-family="'Liberation Serif', 'Times New Roman', serif" font-weight="bold" font-size="13.5" fill="#111" stroke="#111" stroke-width="0.4">
<text transform="translate(40.3,427.4) scale(1,1.05)" text-anchor="middle" textLength="6.0" lengthAdjust="spacing">0</text>
<text transform="translate(90.0,427.4) scale(1,1.05)" text-anchor="middle" textLength="28.2" lengthAdjust="spacing">2000</text>
<text transform="translate(137.3,427.4) scale(1,1.05)" text-anchor="middle" textLength="27.8" lengthAdjust="spacing">4000</text>
<text transform="translate(189.2,427.4) scale(1,1.05)" text-anchor="middle" textLength="28.2" lengthAdjust="spacing">6000</text>
<text transform="translate(238.7,427.4) scale(1,1.05)" text-anchor="middle" textLength="28.0" lengthAdjust="spacing">8000</text>
<text transform="translate(285.4,427.4) scale(1,1.05)" text-anchor="middle" textLength="37.9" lengthAdjust="spacing">10,000</text>
<text transform="translate(330.0,427.4) scale(1,1.05)" text-anchor="middle" textLength="37.4" lengthAdjust="spacing">12,000</text>
<text transform="translate(381.1,427.4) scale(1,1.05)" text-anchor="middle" textLength="37.6" lengthAdjust="spacing">14,000</text>
<text transform="translate(429.2,427.4) scale(1,1.05)" text-anchor="middle" textLength="36.9" lengthAdjust="spacing">16,000</text>
<text transform="translate(475.1,427.4) scale(1,1.05)" text-anchor="middle" textLength="36.7" lengthAdjust="spacing">18,000</text>
<text transform="translate(525.0,427.4) scale(1,1.05)" text-anchor="middle" textLength="37.4" lengthAdjust="spacing">20,000</text>
</g>
<g font-family="'Liberation Serif', 'Times New Roman', serif" font-weight="bold" font-size="14.4" fill="#111" stroke="#111" stroke-width="0.2">
<text x="42.2" y="55.3" text-anchor="end">1</text>
<text x="42.2" y="124.8" text-anchor="end">0.8</text>
<text x="42.2" y="194.2" text-anchor="end">0.6</text>
<text x="42.2" y="263.7" text-anchor="end">0.4</text>
<text x="42.2" y="333.1" text-anchor="end">0.2</text>
<text x="42.2" y="402.6" text-anchor="end">0</text>
</g>
<text font-family="'Liberation Serif', 'Times New Roman', serif" font-weight="bold" font-size="14.4" fill="#111" stroke="#111" stroke-width="0.25" x="288.4" y="446.6" text-anchor="middle" textLength="144" lengthAdjust="spacing">Number of iterations</text>
<text font-family="'Liberation Serif', 'Times New Roman', serif" font-weight="bold" font-size="14.8" fill="#111" stroke="#111" stroke-width="0.25" transform="translate(18.3,211.0) rotate(-90)" text-anchor="middle" textLength="167" lengthAdjust="spacing">Loss of objective function</text>
<g font-family="'Liberation Serif', 'Times New Roman', serif" font-weight="bold" font-size="13.0" fill="#111" stroke="#111" stroke-width="0.3">
<path d="M409.9,33.7 H430.3" stroke="#1878c8" stroke-width="2" fill="none"/>
<text x="432.2" y="37.4" textLength="77.8" lengthAdjust="spacingAndGlyphs">CGAN-16 bits</text>
<path d="M409.9,48.5 H430.3" stroke="#3fd35c" stroke-width="2" fill="none"/>
<text x="432.2" y="52.2" textLength="77.8" lengthAdjust="spacingAndGlyphs">CGAN-32 bits</text>
<path d="M409.9,63.2 H430.3" stroke="#ff9a1e" stroke-width="2" fill="none"/>
<text x="432.2" y="66.9" textLength="77.8" lengthAdjust="spacingAndGlyphs">CGAN-64 bits</text>
<path d="M409.9,78.0 H430.3" stroke="#1212ff" stroke-width="2" fill="none"/>
<text x="432.2" y="81.7" textLength="68.6" lengthAdjust="spacingAndGlyphs">GAN-16 bits</text>
<path d="M409.9,92.7 H430.3" stroke="#14f514" stroke-width="2" fill="none"/>
<text x="432.2" y="96.4" textLength="68.6" lengthAdjust="spacingAndGlyphs">GAN-32 bits</text>
<path d="M409.9,107.5 H430.3" stroke="#fa1414" stroke-width="2" fill="none"/>
<text x="432.2" y="111.2" textLength="68.6" lengthAdjust="spacingAndGlyphs">GAN-64 bits</text>
</g>
<rect x="177.3" y="162.6" width="215.3" height="120.1" fill="#fff"/>
<path d="M177.3,189.0 H392.6 M177.3,215.1 H392.6 M177.3,241.2 H392.6 M177.3,267.2 H392.6 M285,162.6 V282.7" stroke="#b8b8b8" stroke-width="0.9" stroke-dasharray="1 1.2" fill="none"/>
<g fill="none" stroke-width="1.9" stroke-linejoin="round">
<path d="M177.3,265.8 L178.5,265.8 L179.7,265.8 L180.9,265.8 L182.1,265.6 L183.3,265.7 L184.5,265.6 L185.7,265.6 L186.9,265.5 L188.1,265.5 L189.3,265.6 L190.5,265.7 L191.7,265.8 L192.9,265.7 L194.1,265.8 L195.3,265.8 L196.5,265.7 L197.7,265.7 L199.0,265.7 L200.2,265.8 L201.4,265.7 L202.6,265.6 L203.8,265.6 L205.0,265.5 L206.2,265.5 L207.4,265.7 L208.6,265.7 L209.8,265.6 L211.0,265.7 L212.2,265.6 L213.4,265.7 L214.6,265.6 L215.8,265.5 L217.0,265.5 L218.2,265.6 L219.4,265.6 L220.6,265.7 L221.8,265.9 L223.0,265.7 L224.2,265.8 L225.4,265.8 L226.6,265.8 L227.8,265.7 L229.0,265.8 L230.2,265.9 L231.4,265.7 L232.6,265.6 L233.8,265.6 L235.0,265.5 L236.2,265.6 L237.4,265.8 L238.6,265.6 L239.8,265.7 L241.0,265.7 L242.3,265.5 L243.5,265.7 L244.7,265.6 L245.9,265.6 L247.1,265.5 L248.3,265.5 L249.5,265.5 L250.7,265.5 L251.9,265.5 L253.1,265.6 L254.3,265.6 L255.5,265.6 L256.7,265.6 L257.9,265.8 L259.1,265.8 L260.3,265.7 L261.5,265.8 L262.7,265.9 L263.9,265.8 L265.1,265.8 L266.3,265.7 L267.5,265.6 L268.7,265.7 L269.9,265.8 L271.1,265.6 L272.3,265.8 L273.5,265.9 L274.7,265.7 L275.9,265.7 L277.1,265.6 L278.3,265.7 L279.5,265.8 L280.7,265.7 L281.9,265.7 L283.1,265.8 L284.3,265.6 L285.6,265.7 L286.8,265.7 L288.0,265.8 L289.2,265.7 L290.4,265.8 L291.6,265.6 L292.8,265.6 L294.0,265.5 L295.2,265.5 L296.4,265.6 L297.6,265.5 L298.8,265.7 L300.0,265.6 L301.2,265.7 L302.4,265.8 L303.6,265.6 L304.8,265.6 L306.0,265.7 L307.2,265.7 L308.4,265.8 L309.6,265.7 L310.8,265.7 L312.0,265.8 L313.2,265.7 L314.4,265.9 L315.6,265.9 L316.8,265.7 L318.0,265.7 L319.2,265.9 L320.4,265.7 L321.6,265.8 L322.8,265.8 L324.0,265.9 L325.2,265.8 L326.4,265.7 L327.6,265.8 L328.9,265.6 L330.1,265.8 L331.3,265.8 L332.5,265.7 L333.7,265.8 L334.9,265.7 L336.1,265.8 L337.3,265.6 L338.5,265.8 L339.7,265.7 L340.9,265.8 L342.1,265.8 L343.3,265.8 L344.5,265.7 L345.7,265.7 L346.9,265.6 L348.1,265.6 L349.3,265.5 L350.5,265.7 L351.7,265.8 L352.9,265.7 L354.1,265.9 L355.3,265.9 L356.5,266.0 L357.7,265.7 L358.9,265.8 L360.1,265.8 L361.3,265.8 L362.5,265.6 L363.7,265.8 L364.9,265.7 L366.1,265.7 L367.3,265.8 L368.5,265.7 L369.7,265.6 L370.9,265.7 L372.2,265.7 L373.4,265.5 L374.6,265.5 L375.8,265.7 L377.0,265.8 L378.2,265.7 L379.4,265.6 L380.6,265.7 L381.8,265.8 L383.0,265.8 L384.2,265.6 L385.4,265.6 L386.6,265.8 L387.8,265.6 L389.0,265.6 L390.2,265.5 L391.4,265.7 L392.6,265.6" stroke="#1878c8"/>
<path d="M177.3,261.6 L178.5,261.7 L179.7,261.7 L180.9,261.5 L182.1,261.5 L183.3,261.5 L184.5,261.5 L185.7,261.4 L186.9,261.4 L188.1,261.5 L189.3,261.4 L190.5,261.6 L191.7,261.5 L192.9,261.4 L194.1,261.4 L195.3,261.4 L196.5,261.5 L197.7,261.5 L199.0,261.6 L200.2,261.6 L201.4,261.5 L202.6,261.6 L203.8,261.5 L205.0,261.4 L206.2,261.4 L207.4,261.4 L208.6,261.3 L209.8,261.4 L211.0,261.3 L212.2,261.5 L213.4,261.5 L214.6,261.6 L215.8,261.6 L217.0,261.6 L218.2,261.6 L219.4,261.5 L220.6,261.6 L221.8,261.5 L223.0,261.5 L224.2,261.5 L225.4,261.6 L226.6,261.4 L227.8,261.4 L229.0,261.5 L230.2,261.6 L231.4,261.7 L232.6,261.5 L233.8,261.4 L235.0,261.3 L236.2,261.4 L237.4,261.5 L238.6,261.5 L239.8,261.6 L241.0,261.5 L242.3,261.5 L243.5,261.6 L244.7,261.6 L245.9,261.6 L247.1,261.6 L248.3,261.5 L249.5,261.6 L250.7,261.5 L251.9,261.4 L253.1,261.4 L254.3,261.4 L255.5,261.4 L256.7,261.5 L257.9,261.4 L259.1,261.4 L260.3,261.4 L261.5,261.4 L262.7,261.5 L263.9,261.4 L265.1,261.3 L266.3,261.4 L267.5,261.4 L268.7,261.4 L269.9,261.5 L271.1,261.4 L272.3,261.4 L273.5,261.3 L274.7,261.4 L275.9,261.6 L277.1,261.5 L278.3,261.4 L279.5,261.4 L280.7,261.3 L281.9,261.5 L283.1,261.5 L284.3,261.4 L285.6,261.4 L286.8,261.5 L288.0,261.5 L289.2,261.5 L290.4,261.4 L291.6,261.4 L292.8,261.5 L294.0,261.6 L295.2,261.6 L296.4,261.4 L297.6,261.5 L298.8,261.6 L300.0,261.6 L301.2,261.5 L302.4,261.4 L303.6,261.3 L304.8,261.4 L306.0,261.3 L307.2,261.4 L308.4,261.5 L309.6,261.5 L310.8,261.6 L312.0,261.6 L313.2,261.6 L314.4,261.4 L315.6,261.4 L316.8,261.4 L318.0,261.4 L319.2,261.5 L320.4,261.5 L321.6,261.4 L322.8,261.3 L324.0,261.3 L325.2,261.4 L326.4,261.4 L327.6,261.4 L328.9,261.5 L330.1,261.4 L331.3,261.5 L332.5,261.4 L333.7,261.5 L334.9,261.6 L336.1,261.5 L337.3,261.5 L338.5,261.4 L339.7,261.4 L340.9,261.4 L342.1,261.5 L343.3,261.4 L344.5,261.3 L345.7,261.2 L346.9,261.3 L348.1,261.3 L349.3,261.3 L350.5,261.4 L351.7,261.5 L352.9,261.5 L354.1,261.4 L355.3,261.4 L356.5,261.4 L357.7,261.5 L358.9,261.4 L360.1,261.3 L361.3,261.3 L362.5,261.5 L363.7,261.4 L364.9,261.3 L366.1,261.3 L367.3,261.2 L368.5,261.3 L369.7,261.3 L370.9,261.4 L372.2,261.4 L373.4,261.4 L374.6,261.4 L375.8,261.5 L377.0,261.5 L378.2,261.5 L379.4,261.5 L380.6,261.4 L381.8,261.5 L383.0,261.5 L384.2,261.5 L385.4,261.4 L386.6,261.4 L387.8,261.3 L389.0,261.4 L390.2,261.4 L391.4,261.4 L392.6,261.4" stroke="#3fd35c"/>
<path d="M177.3,246.8 L178.5,246.5 L179.7,246.2 L180.9,246.3 L182.1,246.7 L183.3,246.8 L184.5,246.2 L185.7,246.7 L186.9,246.7 L188.1,246.2 L189.3,246.2 L190.5,246.1 L191.7,246.8 L192.9,246.9 L194.1,246.7 L195.3,246.4 L196.5,246.4 L197.8,246.3 L199.0,246.4 L200.2,246.9 L201.4,247.2 L202.6,247.3 L203.8,247.6 L205.0,247.5 L206.2,246.8 L207.4,246.3 L208.6,246.1 L209.8,246.2 L211.0,246.5 L212.2,247.0 L213.4,247.1 L214.6,246.9 L215.8,246.6 L217.0,247.3 L218.2,247.4 L219.4,247.0 L220.6,246.5 L221.8,247.2 L223.0,246.8 L224.2,247.3 L225.4,246.7 L226.6,247.0 L227.8,246.8 L229.0,247.3 L230.2,246.9 L231.4,246.5 L232.6,246.3 L233.8,246.9 L235.0,247.5 L236.2,247.4 L237.4,247.4 L238.7,247.0 L239.9,246.7 L241.1,246.3 L242.3,247.1 L243.5,246.5 L244.7,246.8 L245.9,246.7 L247.1,246.5 L248.3,246.6 L249.5,247.2 L250.7,246.9 L251.9,246.5 L253.1,246.9 L254.3,247.1 L255.5,247.1 L256.7,246.7 L257.9,247.2 L259.1,246.7 L260.3,246.4 L261.5,246.4 L262.7,246.6 L263.9,246.8 L265.1,246.9 L266.3,247.2 L267.5,247.6 L268.7,247.3 L269.9,246.7 L271.1,247.2 L272.3,246.6 L273.5,246.6 L274.7,246.3 L275.9,246.7 L277.1,247.2 L278.3,246.7 L279.6,246.6 L280.8,247.2 L282.0,247.4 L283.2,246.8 L284.4,247.1 L285.6,247.4 L286.8,247.2 L288.0,246.7 L289.2,247.1 L290.4,246.9 L291.6,246.5 L292.8,246.4 L294.0,246.5 L295.2,246.3 L296.4,246.5 L297.6,246.8 L298.8,247.0 L300.0,246.9 L301.2,247.3 L302.5,246.6 L303.8,246.5 L305.0,247.1 L306.2,247.3 L307.5,247.5 L308.8,247.4 L310.0,247.0 L311.2,247.1 L312.5,246.8 L313.8,246.1 L315.0,245.8 L316.2,245.5 L317.4,246.3 L318.6,246.1 L319.8,246.0 L321.0,246.2 L322.2,245.8 L323.4,246.2 L324.6,246.6 L325.8,246.9 L327.0,247.1 L328.2,246.6 L329.4,246.1 L330.6,246.6 L331.8,246.7 L333.1,246.5 L334.3,246.3 L335.5,246.0 L336.7,246.6 L337.9,246.5 L339.1,246.9 L340.3,246.6 L341.5,246.4 L342.7,246.5 L343.9,246.8 L345.1,247.2 L346.3,246.8 L347.5,247.0 L348.7,246.8 L349.9,247.2 L351.1,247.3 L352.3,247.1 L353.5,246.8 L354.7,246.6 L355.9,247.1 L357.1,247.3 L358.3,246.9 L359.5,246.4 L360.7,246.2 L361.9,247.0 L363.1,246.5 L364.3,247.0 L365.5,247.0 L366.7,247.0 L367.9,247.1 L369.2,246.9 L370.4,247.0 L371.6,246.6 L372.8,247.2 L374.0,246.7 L375.2,246.4 L376.4,246.9 L377.6,247.1 L378.8,247.5 L380.0,247.6 L381.2,247.9 L382.4,247.1 L383.6,246.6 L384.8,246.5 L386.0,247.1 L387.3,246.4 L388.6,246.2 L390.0,246.2 L391.3,245.3 L392.6,245.1" stroke="#ff9a1e"/>
<path d="M177.3,252.4 L178.5,252.5 L179.7,252.4 L180.9,252.3 L182.1,252.2 L183.3,252.4 L184.5,252.5 L185.7,252.5 L186.9,252.3 L188.1,252.4 L189.3,252.4 L190.5,252.4 L191.7,252.3 L192.9,252.4 L194.1,252.4 L195.3,252.4 L196.5,252.4 L197.7,252.4 L199.0,252.4 L200.2,252.5 L201.4,252.3 L202.6,252.4 L203.8,252.4 L205.0,252.4 L206.2,252.5 L207.4,252.3 L208.6,252.2 L209.8,252.3 L211.0,252.4 L212.2,252.3 L213.4,252.5 L214.6,252.5 L215.8,252.2 L217.0,252.1 L218.2,252.1 L219.4,252.2 L220.6,252.2 L221.8,252.1 L223.0,252.2 L224.2,252.1 L225.4,252.3 L226.6,252.4 L227.8,252.4 L229.0,252.3 L230.2,252.3 L231.4,252.3 L232.6,252.3 L233.8,252.4 L235.0,252.5 L236.2,252.5 L237.4,252.5 L238.6,252.3 L239.8,252.2 L241.0,252.2 L242.3,252.1 L243.5,252.2 L244.7,252.4 L245.9,252.4 L247.1,252.5 L248.3,252.4 L249.5,252.2 L250.7,252.1 L251.9,252.1 L253.1,252.0 L254.3,252.2 L255.5,252.2 L256.7,252.3 L257.9,252.3 L259.1,252.3 L260.3,252.3 L261.5,252.3 L262.7,252.4 L263.9,252.4 L265.1,252.4 L266.3,252.3 L267.5,252.2 L268.7,252.1 L269.9,252.2 L271.1,252.3 L272.3,252.2 L273.5,252.3 L274.7,252.4 L275.9,252.5 L277.1,252.5 L278.3,252.4 L279.5,252.3 L280.7,252.2 L281.9,252.3 L283.1,252.5 L284.3,252.3 L285.6,252.1 L286.8,252.1 L288.0,252.2 L289.2,252.2 L290.4,252.1 L291.6,252.3 L292.8,252.3 L294.0,252.4 L295.2,252.3 L296.4,252.2 L297.6,252.2 L298.8,252.4 L300.0,252.4 L301.2,252.4 L302.4,252.2 L303.6,252.3 L304.8,252.4 L306.0,252.5 L307.2,252.6 L308.4,252.3 L309.6,252.3 L310.8,252.4 L312.0,252.4 L313.2,252.5 L314.4,252.3 L315.6,252.2 L316.8,252.4 L318.0,252.3 L319.2,252.3 L320.4,252.3 L321.6,252.3 L322.8,252.4 L324.0,252.5 L325.2,252.6 L326.4,252.4 L327.6,252.4 L328.9,252.2 L330.1,252.2 L331.3,252.4 L332.5,252.3 L333.7,252.2 L334.9,252.3 L336.1,252.2 L337.3,252.3 L338.5,252.4 L339.7,252.2 L340.9,252.4 L342.1,252.2 L343.3,252.3 L344.5,252.3 L345.7,252.2 L346.9,252.1 L348.1,252.3 L349.3,252.4 L350.5,252.4 L351.7,252.4 L352.9,252.5 L354.1,252.6 L355.3,252.5 L356.5,252.3 L357.7,252.3 L358.9,252.5 L360.1,252.5 L361.3,252.5 L362.5,252.5 L363.7,252.4 L364.9,252.4 L366.1,252.5 L367.3,252.3 L368.5,252.4 L369.7,252.2 L370.9,252.3 L372.2,252.3 L373.4,252.2 L374.6,252.4 L375.8,252.3 L377.0,252.2 L378.2,252.2 L379.4,252.3 L380.6,252.3 L381.8,252.1 L383.0,252.1 L384.2,252.2 L385.4,252.1 L386.6,252.1 L387.8,252.3 L389.0,252.4 L390.2,252.5 L391.4,252.3 L392.6,252.1" stroke="#1212ff"/>
<path d="M177.3,231.6 L178.5,231.6 L179.7,231.5 L180.9,231.4 L182.1,231.4 L183.3,231.4 L184.5,231.4 L185.7,231.6 L186.9,231.5 L188.1,231.4 L189.3,231.5 L190.5,231.4 L191.7,231.4 L192.9,231.4 L194.1,231.6 L195.3,231.5 L196.5,231.4 L197.7,231.5 L199.0,231.4 L200.2,231.4 L201.4,231.5 L202.6,231.4 L203.8,231.5 L205.0,231.4 L206.2,231.4 L207.4,231.4 L208.6,231.4 L209.8,231.6 L211.0,231.4 L212.2,231.5 L213.4,231.5 L214.6,231.5 L215.8,231.4 L217.0,231.5 L218.2,231.5 L219.4,231.5 L220.6,231.5 L221.8,231.5 L223.0,231.5 L224.2,231.5 L225.4,231.4 L226.6,231.4 L227.8,231.5 L229.0,231.6 L230.2,231.7 L231.4,231.6 L232.6,231.5 L233.8,231.4 L235.0,231.5 L236.2,231.5 L237.4,231.4 L238.6,231.5 L239.8,231.6 L241.0,231.5 L242.3,231.6 L243.5,231.5 L244.7,231.6 L245.9,231.6 L247.1,231.5 L248.3,231.4 L249.5,231.6 L250.7,231.4 L251.9,231.4 L253.1,231.4 L254.3,231.5 L255.5,231.5 L256.7,231.6 L257.9,231.6 L259.1,231.4 L260.3,231.3 L261.5,231.3 L262.7,231.3 L263.9,231.3 L265.1,231.3 L266.3,231.4 L267.5,231.4 L268.7,231.5 L269.9,231.5 L271.1,231.6 L272.3,231.5 L273.5,231.5 L274.7,231.5 L275.9,231.4 L277.1,231.5 L278.3,231.4 L279.5,231.3 L280.7,231.3 L281.9,231.5 L283.1,231.5 L284.3,231.3 L285.6,231.3 L286.8,231.4 L288.0,231.5 L289.2,231.4 L290.4,231.5 L291.6,231.4 L292.8,231.4 L294.0,231.4 L295.2,231.4 L296.4,231.6 L297.6,231.6 L298.8,231.7 L300.0,231.6 L301.2,231.6 L302.4,231.4 L303.6,231.3 L304.8,231.5 L306.0,231.5 L307.2,231.5 L308.4,231.4 L309.6,231.4 L310.8,231.5 L312.0,231.5 L313.2,231.3 L314.4,231.3 L315.6,231.3 L316.8,231.3 L318.0,231.5 L319.2,231.5 L320.4,231.6 L321.6,231.4 L322.8,231.4 L324.0,231.3 L325.2,231.4 L326.4,231.5 L327.6,231.5 L328.9,231.6 L330.1,231.4 L331.3,231.3 L332.5,231.2 L333.7,231.4 L334.9,231.5 L336.1,231.5 L337.3,231.4 L338.5,231.5 L339.7,231.4 L340.9,231.3 L342.1,231.2 L343.3,231.4 L344.5,231.4 L345.7,231.5 L346.9,231.5 L348.1,231.5 L349.3,231.6 L350.5,231.6 L351.7,231.6 L352.9,231.7 L354.1,231.5 L355.3,231.5 L356.5,231.4 L357.7,231.4 L358.9,231.3 L360.1,231.5 L361.3,231.4 L362.5,231.4 L363.7,231.3 L364.9,231.5 L366.1,231.4 L367.3,231.5 L368.5,231.5 L369.7,231.5 L370.9,231.4 L372.2,231.4 L373.4,231.5 L374.6,231.5 L375.8,231.6 L377.0,231.4 L378.2,231.5 L379.4,231.5 L380.6,231.5 L381.8,231.4 L383.0,231.4 L384.2,231.3 L385.4,231.2 L386.6,231.3 L387.8,231.2 L389.0,231.2 L390.2,231.3 L391.4,231.4 L392.6,231.4" stroke="#14f514"/>
<path d="M177.3,214.7 L178.5,214.8 L179.7,214.9 L180.9,214.9 L182.1,214.8 L183.3,214.8 L184.5,214.8 L185.8,214.7 L187.0,214.6 L188.2,214.8 L189.4,214.9 L190.6,215.0 L191.8,214.8 L193.0,214.7 L194.2,214.7 L195.4,214.6 L196.6,214.6 L197.8,214.7 L199.0,214.7 L200.2,214.9 L201.4,214.9 L202.7,214.9 L203.9,214.9 L205.1,215.0 L206.3,214.9 L207.5,214.6 L208.7,214.9 L209.9,215.0 L211.1,214.8 L212.3,214.6 L213.5,214.6 L214.7,214.7 L215.9,214.6 L217.1,214.5 L218.3,214.6 L219.6,214.5 L220.8,214.5 L222.0,214.6 L223.2,214.6 L224.4,214.5 L225.6,214.5 L226.8,214.5 L228.0,214.6 L229.2,214.6 L230.4,214.6 L231.6,214.6 L232.8,214.5 L234.0,214.8 L235.3,214.9 L236.5,214.8 L237.7,214.6 L238.9,214.6 L240.1,214.8 L241.3,214.8 L242.5,214.7 L243.7,214.9 L244.9,215.0 L246.1,214.8 L247.3,214.8 L248.5,214.8 L249.7,214.7 L250.9,214.6 L252.2,214.8 L253.4,214.8 L254.6,214.9 L255.8,214.9 L257.0,214.8 L258.2,214.6 L259.4,214.5 L260.6,214.8 L261.8,214.9 L263.0,215.0 L264.2,214.8 L265.4,214.9 L266.6,214.7 L267.8,214.7 L269.1,214.6 L270.3,214.8 L271.5,214.9 L272.7,215.0 L273.9,214.9 L275.1,215.0 L276.3,214.8 L277.5,214.9 L278.7,214.9 L279.9,214.8 L281.1,214.7 L282.3,214.6 L283.5,214.8 L284.8,214.7 L286.0,214.6 L287.2,214.6 L288.4,214.7 L289.6,214.8 L290.8,214.8 L292.0,214.9 L293.2,215.0 L294.4,214.8 L295.6,214.8 L296.8,214.7 L298.0,214.6 L299.2,214.6 L300.4,214.5 L301.7,214.6 L302.9,214.8 L304.1,214.9 L305.3,214.7 L306.5,214.6 L307.7,214.7 L308.9,214.8 L310.1,214.6 L311.3,214.5 L312.5,214.7 L313.7,214.8 L314.9,214.6 L316.1,214.8 L317.3,214.7 L318.6,214.8 L319.8,214.8 L321.0,214.7 L322.2,214.9 L323.4,214.8 L324.6,214.8 L325.8,214.8 L325.9,213.7 L326.1,212.6 L326.2,211.3 L326.3,210.0 L326.4,208.7 L326.6,207.5 L326.7,206.3 L326.8,205.1 L327.0,203.9 L327.1,202.4 L327.2,201.1 L327.3,199.8 L327.5,198.5 L327.6,197.4 L328.0,198.6 L328.3,200.2 L328.6,201.6 L329.0,203.0 L329.8,204.1 L330.5,205.1 L331.3,206.3 L332.5,207.0 L333.8,207.7 L335.0,208.1 L336.2,208.5 L337.5,208.8 L338.8,209.3 L340.0,209.6 L341.2,209.6 L342.5,209.6 L343.8,209.8 L345.0,210.0 L346.2,210.0 L347.5,210.1 L348.8,210.3 L350.0,210.3 L351.2,210.4 L352.5,210.6 L353.8,210.7 L355.0,210.9 L356.2,211.1 L357.5,211.2 L358.8,211.2 L360.0,211.2 L361.2,211.5 L362.5,211.9 L363.8,211.9 L365.0,212.0 L366.2,212.0 L367.5,212.3 L368.8,212.4 L370.0,212.6 L371.2,212.5 L372.5,212.5 L373.8,212.6 L375.0,212.8 L376.3,213.0 L377.5,213.1 L378.8,213.5 L380.0,213.5 L381.3,213.7 L382.5,214.0 L383.8,214.1 L385.1,214.2 L386.3,214.4 L387.6,214.3 L388.8,214.3 L390.1,214.6 L391.3,214.7 L392.6,214.9" stroke="#fa1414"/>
</g>
<rect x="177.3" y="162.6" width="215.3" height="120.1" fill="none" stroke="#3a3a3a" stroke-width="1.1"/>
<path d="M177.3,189.0 h2.5 M392.6,189.0 h-2.5 M177.3,215.1 h2.5 M392.6,215.1 h-2.5 M177.3,241.2 h2.5 M392.6,241.2 h-2.5 M177.3,267.2 h2.5 M392.6,267.2 h-2.5 M285,162.6 v2.5 M285,282.7 v-2.5" stroke="#3a3a3a" stroke-width="0.9" fill="none"/>
<g font-family="'Liberation Serif', 'Times New Roman', serif" font-weight="bold" font-size="14.3" fill="#111" stroke="#111" stroke-width="0.2">
<text x="171.8" y="168.9" text-anchor="end">0.2</text>
<text x="171.8" y="194.4" text-anchor="end">0.15</text>
<text x="171.8" y="220.6" text-anchor="end">0.1</text>
<text x="171.8" y="246.5" text-anchor="end">0.05</text>
<text x="171.8" y="272.0" text-anchor="end">0</text>
<text x="176.7" y="301" text-anchor="middle" textLength="37.0" lengthAdjust="spacing">18,000</text>
<text x="287.2" y="301" text-anchor="middle" textLength="38.7" lengthAdjust="spacing">19,000</text>
<text x="391.1" y="301" text-anchor="middle" textLength="39.2" lengthAdjust="spacing">20,000</text>
</g>
</svg>
</body></html>
